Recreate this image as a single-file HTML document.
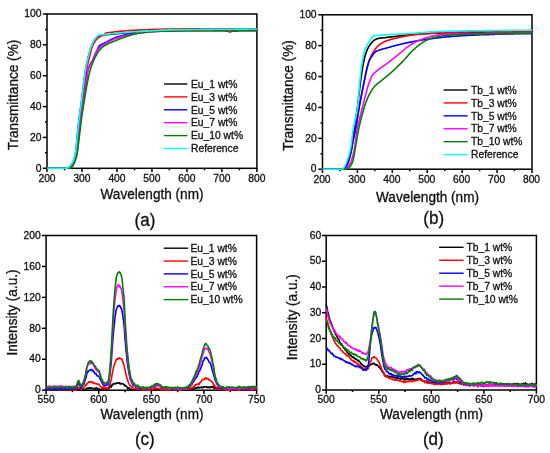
<!DOCTYPE html>
<html><head><meta charset="utf-8"><title>Figure</title>
<style>
html,body{margin:0;padding:0;background:#fff;width:550px;height:453px;overflow:hidden}
svg{display:block;will-change:transform;filter:blur(0.3px)}
text{font-family:"Liberation Sans", sans-serif;fill:#111;stroke:#111;stroke-width:0.3px}
</style></head><body>
<svg width="550" height="453" viewBox="0 0 550 453"><rect width="550" height="453" fill="#fff"/><rect x="47.0" y="14.0" width="209.89999999999998" height="154.3" fill="none" stroke="#000" stroke-width="1.5"/><line x1="47.00" y1="168.3" x2="47.00" y2="172.10000000000002" stroke="#000" stroke-width="1.5"/><text transform="translate(47.00,181.50) scale(1,1.05)" font-size="10.3" text-anchor="middle">200</text><line x1="81.98" y1="168.3" x2="81.98" y2="172.10000000000002" stroke="#000" stroke-width="1.5"/><text transform="translate(81.98,181.50) scale(1,1.05)" font-size="10.3" text-anchor="middle">300</text><line x1="116.97" y1="168.3" x2="116.97" y2="172.10000000000002" stroke="#000" stroke-width="1.5"/><text transform="translate(116.97,181.50) scale(1,1.05)" font-size="10.3" text-anchor="middle">400</text><line x1="151.95" y1="168.3" x2="151.95" y2="172.10000000000002" stroke="#000" stroke-width="1.5"/><text transform="translate(151.95,181.50) scale(1,1.05)" font-size="10.3" text-anchor="middle">500</text><line x1="186.93" y1="168.3" x2="186.93" y2="172.10000000000002" stroke="#000" stroke-width="1.5"/><text transform="translate(186.93,181.50) scale(1,1.05)" font-size="10.3" text-anchor="middle">600</text><line x1="221.92" y1="168.3" x2="221.92" y2="172.10000000000002" stroke="#000" stroke-width="1.5"/><text transform="translate(221.92,181.50) scale(1,1.05)" font-size="10.3" text-anchor="middle">700</text><line x1="256.90" y1="168.3" x2="256.90" y2="172.10000000000002" stroke="#000" stroke-width="1.5"/><text transform="translate(256.90,181.50) scale(1,1.05)" font-size="10.3" text-anchor="middle">800</text><line x1="64.49" y1="168.3" x2="64.49" y2="170.3" stroke="#000" stroke-width="1.5"/><line x1="99.47" y1="168.3" x2="99.47" y2="170.3" stroke="#000" stroke-width="1.5"/><line x1="134.46" y1="168.3" x2="134.46" y2="170.3" stroke="#000" stroke-width="1.5"/><line x1="169.44" y1="168.3" x2="169.44" y2="170.3" stroke="#000" stroke-width="1.5"/><line x1="204.42" y1="168.3" x2="204.42" y2="170.3" stroke="#000" stroke-width="1.5"/><line x1="239.41" y1="168.3" x2="239.41" y2="170.3" stroke="#000" stroke-width="1.5"/><line x1="42.8" y1="168.30" x2="47.0" y2="168.30" stroke="#000" stroke-width="1.5"/><text transform="translate(41.40,171.50) scale(1,1.05)" font-size="10.3" text-anchor="end">0</text><line x1="42.8" y1="137.44" x2="47.0" y2="137.44" stroke="#000" stroke-width="1.5"/><text transform="translate(41.40,140.64) scale(1,1.05)" font-size="10.3" text-anchor="end">20</text><line x1="42.8" y1="106.58" x2="47.0" y2="106.58" stroke="#000" stroke-width="1.5"/><text transform="translate(41.40,109.78) scale(1,1.05)" font-size="10.3" text-anchor="end">40</text><line x1="42.8" y1="75.72" x2="47.0" y2="75.72" stroke="#000" stroke-width="1.5"/><text transform="translate(41.40,78.92) scale(1,1.05)" font-size="10.3" text-anchor="end">60</text><line x1="42.8" y1="44.86" x2="47.0" y2="44.86" stroke="#000" stroke-width="1.5"/><text transform="translate(41.40,48.06) scale(1,1.05)" font-size="10.3" text-anchor="end">80</text><line x1="42.8" y1="14.00" x2="47.0" y2="14.00" stroke="#000" stroke-width="1.5"/><text transform="translate(41.40,17.20) scale(1,1.05)" font-size="10.3" text-anchor="end">100</text><line x1="45.0" y1="152.87" x2="47.0" y2="152.87" stroke="#000" stroke-width="1.5"/><line x1="45.0" y1="122.01" x2="47.0" y2="122.01" stroke="#000" stroke-width="1.5"/><line x1="45.0" y1="91.15" x2="47.0" y2="91.15" stroke="#000" stroke-width="1.5"/><line x1="45.0" y1="60.29" x2="47.0" y2="60.29" stroke="#000" stroke-width="1.5"/><line x1="45.0" y1="29.43" x2="47.0" y2="29.43" stroke="#000" stroke-width="1.5"/><text transform="translate(152.00,198.50) scale(1,1.05)" font-size="13.6" text-anchor="middle">Wavelength (nm)</text><text transform="translate(17.50,95.00) rotate(-90) scale(1,1.05)" font-size="13.6" text-anchor="middle">Transmittance (%)</text><rect x="322.5" y="14.8" width="209.5" height="154.39999999999998" fill="none" stroke="#000" stroke-width="1.5"/><line x1="322.50" y1="169.2" x2="322.50" y2="173.0" stroke="#000" stroke-width="1.5"/><text transform="translate(322.00,183.30) scale(1,1.05)" font-size="10.3" text-anchor="middle">200</text><line x1="357.42" y1="169.2" x2="357.42" y2="173.0" stroke="#000" stroke-width="1.5"/><text transform="translate(356.92,183.30) scale(1,1.05)" font-size="10.3" text-anchor="middle">300</text><line x1="392.33" y1="169.2" x2="392.33" y2="173.0" stroke="#000" stroke-width="1.5"/><text transform="translate(391.83,183.30) scale(1,1.05)" font-size="10.3" text-anchor="middle">400</text><line x1="427.25" y1="169.2" x2="427.25" y2="173.0" stroke="#000" stroke-width="1.5"/><text transform="translate(426.75,183.30) scale(1,1.05)" font-size="10.3" text-anchor="middle">500</text><line x1="462.17" y1="169.2" x2="462.17" y2="173.0" stroke="#000" stroke-width="1.5"/><text transform="translate(461.67,183.30) scale(1,1.05)" font-size="10.3" text-anchor="middle">600</text><line x1="497.08" y1="169.2" x2="497.08" y2="173.0" stroke="#000" stroke-width="1.5"/><text transform="translate(496.58,183.30) scale(1,1.05)" font-size="10.3" text-anchor="middle">700</text><line x1="532.00" y1="169.2" x2="532.00" y2="173.0" stroke="#000" stroke-width="1.5"/><text transform="translate(531.50,183.30) scale(1,1.05)" font-size="10.3" text-anchor="middle">800</text><line x1="339.96" y1="169.2" x2="339.96" y2="171.2" stroke="#000" stroke-width="1.5"/><line x1="374.88" y1="169.2" x2="374.88" y2="171.2" stroke="#000" stroke-width="1.5"/><line x1="409.79" y1="169.2" x2="409.79" y2="171.2" stroke="#000" stroke-width="1.5"/><line x1="444.71" y1="169.2" x2="444.71" y2="171.2" stroke="#000" stroke-width="1.5"/><line x1="479.62" y1="169.2" x2="479.62" y2="171.2" stroke="#000" stroke-width="1.5"/><line x1="514.54" y1="169.2" x2="514.54" y2="171.2" stroke="#000" stroke-width="1.5"/><line x1="318.3" y1="169.20" x2="322.5" y2="169.20" stroke="#000" stroke-width="1.5"/><text transform="translate(316.60,172.40) scale(1,1.05)" font-size="10.3" text-anchor="end">0</text><line x1="318.3" y1="138.32" x2="322.5" y2="138.32" stroke="#000" stroke-width="1.5"/><text transform="translate(316.60,141.52) scale(1,1.05)" font-size="10.3" text-anchor="end">20</text><line x1="318.3" y1="107.44" x2="322.5" y2="107.44" stroke="#000" stroke-width="1.5"/><text transform="translate(316.60,110.64) scale(1,1.05)" font-size="10.3" text-anchor="end">40</text><line x1="318.3" y1="76.56" x2="322.5" y2="76.56" stroke="#000" stroke-width="1.5"/><text transform="translate(316.60,79.76) scale(1,1.05)" font-size="10.3" text-anchor="end">60</text><line x1="318.3" y1="45.68" x2="322.5" y2="45.68" stroke="#000" stroke-width="1.5"/><text transform="translate(316.60,48.88) scale(1,1.05)" font-size="10.3" text-anchor="end">80</text><line x1="318.3" y1="14.80" x2="322.5" y2="14.80" stroke="#000" stroke-width="1.5"/><text transform="translate(316.60,18.00) scale(1,1.05)" font-size="10.3" text-anchor="end">100</text><line x1="320.5" y1="153.76" x2="322.5" y2="153.76" stroke="#000" stroke-width="1.5"/><line x1="320.5" y1="122.88" x2="322.5" y2="122.88" stroke="#000" stroke-width="1.5"/><line x1="320.5" y1="92.00" x2="322.5" y2="92.00" stroke="#000" stroke-width="1.5"/><line x1="320.5" y1="61.12" x2="322.5" y2="61.12" stroke="#000" stroke-width="1.5"/><line x1="320.5" y1="30.24" x2="322.5" y2="30.24" stroke="#000" stroke-width="1.5"/><text transform="translate(427.50,202.40) scale(1,1.05)" font-size="13.6" text-anchor="middle">Wavelength (nm)</text><text transform="translate(293.00,95.50) rotate(-90) scale(1,1.05)" font-size="13.6" text-anchor="middle">Transmittance (%)</text><rect x="46.1" y="235.5" width="210.50000000000003" height="154.7" fill="none" stroke="#000" stroke-width="1.5"/><line x1="46.10" y1="390.2" x2="46.10" y2="394.0" stroke="#000" stroke-width="1.5"/><text transform="translate(46.10,402.50) scale(1,1.05)" font-size="10.3" text-anchor="middle">550</text><line x1="98.73" y1="390.2" x2="98.73" y2="394.0" stroke="#000" stroke-width="1.5"/><text transform="translate(98.73,402.50) scale(1,1.05)" font-size="10.3" text-anchor="middle">600</text><line x1="151.35" y1="390.2" x2="151.35" y2="394.0" stroke="#000" stroke-width="1.5"/><text transform="translate(151.35,402.50) scale(1,1.05)" font-size="10.3" text-anchor="middle">650</text><line x1="203.98" y1="390.2" x2="203.98" y2="394.0" stroke="#000" stroke-width="1.5"/><text transform="translate(203.98,402.50) scale(1,1.05)" font-size="10.3" text-anchor="middle">700</text><line x1="256.60" y1="390.2" x2="256.60" y2="394.0" stroke="#000" stroke-width="1.5"/><text transform="translate(256.60,402.50) scale(1,1.05)" font-size="10.3" text-anchor="middle">750</text><line x1="72.41" y1="390.2" x2="72.41" y2="392.2" stroke="#000" stroke-width="1.5"/><line x1="125.04" y1="390.2" x2="125.04" y2="392.2" stroke="#000" stroke-width="1.5"/><line x1="177.66" y1="390.2" x2="177.66" y2="392.2" stroke="#000" stroke-width="1.5"/><line x1="230.29" y1="390.2" x2="230.29" y2="392.2" stroke="#000" stroke-width="1.5"/><line x1="41.9" y1="390.20" x2="46.1" y2="390.20" stroke="#000" stroke-width="1.5"/><text transform="translate(40.70,393.40) scale(1,1.05)" font-size="10.3" text-anchor="end">0</text><line x1="41.9" y1="359.26" x2="46.1" y2="359.26" stroke="#000" stroke-width="1.5"/><text transform="translate(40.70,362.46) scale(1,1.05)" font-size="10.3" text-anchor="end">40</text><line x1="41.9" y1="328.32" x2="46.1" y2="328.32" stroke="#000" stroke-width="1.5"/><text transform="translate(40.70,331.52) scale(1,1.05)" font-size="10.3" text-anchor="end">80</text><line x1="41.9" y1="297.38" x2="46.1" y2="297.38" stroke="#000" stroke-width="1.5"/><text transform="translate(40.70,300.58) scale(1,1.05)" font-size="10.3" text-anchor="end">120</text><line x1="41.9" y1="266.44" x2="46.1" y2="266.44" stroke="#000" stroke-width="1.5"/><text transform="translate(40.70,269.64) scale(1,1.05)" font-size="10.3" text-anchor="end">160</text><line x1="41.9" y1="235.50" x2="46.1" y2="235.50" stroke="#000" stroke-width="1.5"/><text transform="translate(40.70,238.70) scale(1,1.05)" font-size="10.3" text-anchor="end">200</text><text transform="translate(152.00,419.00) scale(1,1.05)" font-size="13.6" text-anchor="middle">Wavelength (nm)</text><text transform="translate(17.00,312.50) rotate(-90) scale(1,1.05)" font-size="13.6" text-anchor="middle">Intensity (a.u.)</text><rect x="326.2" y="235.5" width="210.2" height="154.5" fill="none" stroke="#000" stroke-width="1.5"/><line x1="326.20" y1="390.0" x2="326.20" y2="393.8" stroke="#000" stroke-width="1.5"/><text transform="translate(326.20,402.50) scale(1,1.05)" font-size="10.3" text-anchor="middle">500</text><line x1="378.75" y1="390.0" x2="378.75" y2="393.8" stroke="#000" stroke-width="1.5"/><text transform="translate(378.75,402.50) scale(1,1.05)" font-size="10.3" text-anchor="middle">550</text><line x1="431.30" y1="390.0" x2="431.30" y2="393.8" stroke="#000" stroke-width="1.5"/><text transform="translate(431.30,402.50) scale(1,1.05)" font-size="10.3" text-anchor="middle">600</text><line x1="483.85" y1="390.0" x2="483.85" y2="393.8" stroke="#000" stroke-width="1.5"/><text transform="translate(483.85,402.50) scale(1,1.05)" font-size="10.3" text-anchor="middle">650</text><line x1="536.40" y1="390.0" x2="536.40" y2="393.8" stroke="#000" stroke-width="1.5"/><text transform="translate(536.40,402.50) scale(1,1.05)" font-size="10.3" text-anchor="middle">700</text><line x1="352.47" y1="390.0" x2="352.47" y2="392.0" stroke="#000" stroke-width="1.5"/><line x1="405.02" y1="390.0" x2="405.02" y2="392.0" stroke="#000" stroke-width="1.5"/><line x1="457.57" y1="390.0" x2="457.57" y2="392.0" stroke="#000" stroke-width="1.5"/><line x1="510.12" y1="390.0" x2="510.12" y2="392.0" stroke="#000" stroke-width="1.5"/><line x1="322.0" y1="390.00" x2="326.2" y2="390.00" stroke="#000" stroke-width="1.5"/><text transform="translate(321.10,393.20) scale(1,1.05)" font-size="10.3" text-anchor="end">0</text><line x1="322.0" y1="364.25" x2="326.2" y2="364.25" stroke="#000" stroke-width="1.5"/><text transform="translate(321.10,367.45) scale(1,1.05)" font-size="10.3" text-anchor="end">10</text><line x1="322.0" y1="338.50" x2="326.2" y2="338.50" stroke="#000" stroke-width="1.5"/><text transform="translate(321.10,341.70) scale(1,1.05)" font-size="10.3" text-anchor="end">20</text><line x1="322.0" y1="312.75" x2="326.2" y2="312.75" stroke="#000" stroke-width="1.5"/><text transform="translate(321.10,315.95) scale(1,1.05)" font-size="10.3" text-anchor="end">30</text><line x1="322.0" y1="287.00" x2="326.2" y2="287.00" stroke="#000" stroke-width="1.5"/><text transform="translate(321.10,290.20) scale(1,1.05)" font-size="10.3" text-anchor="end">40</text><line x1="322.0" y1="261.25" x2="326.2" y2="261.25" stroke="#000" stroke-width="1.5"/><text transform="translate(321.10,264.45) scale(1,1.05)" font-size="10.3" text-anchor="end">50</text><line x1="322.0" y1="235.50" x2="326.2" y2="235.50" stroke="#000" stroke-width="1.5"/><text transform="translate(321.10,238.70) scale(1,1.05)" font-size="10.3" text-anchor="end">60</text><text transform="translate(431.50,419.40) scale(1,1.05)" font-size="13.6" text-anchor="middle">Wavelength (nm)</text><text transform="translate(297.00,317.30) rotate(-90) scale(1,1.05)" font-size="13.6" text-anchor="middle">Intensity (a.u.)</text><path d="M47.0,168.3L47.5,168.3L48.0,168.3L48.5,168.3L49.0,168.3L49.5,168.3L50.0,168.3L50.5,168.3L51.0,168.3L51.5,168.3L52.0,168.3L52.5,168.3L53.0,168.3L53.5,168.3L54.0,168.3L54.5,168.3L55.0,168.3L55.5,168.3L56.0,168.3L56.5,168.3L57.0,168.3L57.5,168.3L58.0,168.3L58.5,168.3L59.0,168.3L59.5,168.3L60.0,168.3L60.5,168.3L61.0,168.3L61.5,168.3L62.0,168.3L62.5,168.3L63.0,168.3L63.5,168.3L64.0,168.3L64.5,168.3L65.0,168.3L65.5,168.3L66.0,168.3L66.5,168.3L67.0,168.2L67.5,168.0L68.0,167.8L68.5,167.6L69.0,167.3L69.5,166.9L70.0,166.3L70.5,165.7L71.0,165.0L71.5,164.4L72.0,163.6L72.5,162.8L73.0,161.8L73.6,160.6L74.1,159.1L74.6,157.3L75.1,155.1L75.6,152.5L76.1,148.9L76.6,143.5L77.1,137.6L77.6,132.4L78.1,127.8L78.6,123.4L79.1,119.2L79.6,115.2L80.1,111.4L80.6,108.0L81.1,104.5L81.6,100.9L82.1,97.0L82.6,92.8L83.1,88.6L83.6,84.4L84.1,80.4L84.6,76.6L85.1,73.0L85.6,69.8L86.1,67.0L86.6,64.5L87.1,62.1L87.6,59.9L88.1,57.8L88.6,55.8L89.1,53.9L89.6,52.1L90.1,50.4L90.6,48.9L91.1,47.5L91.6,46.2L92.1,44.9L92.6,43.7L93.1,42.6L93.6,41.6L94.1,40.7L94.6,39.9L95.1,39.3L95.6,38.6L96.1,38.0L96.6,37.5L97.1,37.0L97.6,36.5L98.1,36.1L98.6,35.8L99.1,35.6L99.6,35.4L100.1,35.3L100.6,35.2L101.1,35.2L101.6,35.1L102.1,35.1L102.6,35.0L103.1,35.0L103.6,34.9L104.1,34.9L104.6,34.8L105.1,34.8L105.6,34.7L106.1,34.7L106.6,34.7L107.1,34.6L107.6,34.6L108.1,34.5L108.6,34.5L109.1,34.4L109.6,34.4L110.1,34.4L110.6,34.3L111.1,34.3L111.6,34.2L112.1,34.2L112.6,34.1L113.1,34.1L113.6,34.0L114.1,34.0L114.6,33.9L115.1,33.9L115.6,33.8L116.1,33.8L116.6,33.7L117.1,33.7L117.6,33.6L118.1,33.6L118.6,33.5L119.1,33.5L119.6,33.4L120.1,33.4L120.6,33.3L121.1,33.3L121.6,33.2L122.1,33.2L122.6,33.1L123.1,33.1L123.6,33.0L124.1,33.0L124.6,32.9L125.1,32.9L125.6,32.8L126.2,32.8L126.7,32.8L127.2,32.7L127.7,32.7L128.2,32.6L128.7,32.6L129.2,32.6L129.7,32.5L130.2,32.5L130.7,32.5L131.2,32.4L131.7,32.4L132.2,32.4L132.7,32.3L133.2,32.3L133.7,32.3L134.2,32.3L134.7,32.2L135.2,32.2L135.7,32.2L136.2,32.1L136.7,32.1L137.2,32.1L137.7,32.1L138.2,32.0L138.7,32.0L139.2,32.0L139.7,32.0L140.2,31.9L140.7,31.9L141.2,31.9L141.7,31.9L142.2,31.8L142.7,31.8L143.2,31.8L143.7,31.8L144.2,31.7L144.7,31.7L145.2,31.7L145.7,31.7L146.2,31.6L146.7,31.6L147.2,31.6L147.7,31.6L148.2,31.5L148.7,31.5L149.2,31.5L149.7,31.4L150.2,31.4L150.7,31.4L151.2,31.4L151.7,31.3L152.2,31.3L152.7,31.3L153.2,31.2L153.7,31.2L154.2,31.2L154.7,31.1L155.2,31.1L155.7,31.0L156.2,31.0L156.7,31.0L157.2,30.9L157.7,30.9L158.2,30.9L158.7,30.8L159.2,30.8L159.7,30.8L160.2,30.7L160.7,30.7L161.2,30.7L161.7,30.6L162.2,30.6L162.7,30.6L163.2,30.6L163.7,30.6L164.2,30.5L164.7,30.5L165.2,30.5L165.7,30.5L166.2,30.5L166.7,30.5L167.2,30.4L167.7,30.4L168.2,30.4L168.7,30.4L169.2,30.4L169.7,30.4L170.2,30.4L170.7,30.3L171.2,30.3L171.7,30.3L172.2,30.3L172.7,30.3L173.2,30.3L173.7,30.3L174.2,30.3L174.7,30.2L175.2,30.2L175.7,30.2L176.2,30.2L176.7,30.2L177.2,30.2L177.7,30.2L178.3,30.2L178.8,30.2L179.3,30.2L179.8,30.2L180.3,30.1L180.8,30.1L181.3,30.1L181.8,30.1L182.3,30.1L182.8,30.1L183.3,30.1L183.8,30.1L184.3,30.1L184.8,30.1L185.3,30.1L185.8,30.1L186.3,30.1L186.8,30.0L187.3,30.0L187.8,30.0L188.3,30.0L188.8,30.0L189.3,30.0L189.8,30.0L190.3,30.0L190.8,30.0L191.3,30.0L191.8,30.0L192.3,30.0L192.8,30.0L193.3,30.0L193.8,30.0L194.3,30.0L194.8,30.0L195.3,30.0L195.8,29.9L196.3,29.9L196.8,29.9L197.3,29.9L197.8,29.9L198.3,29.9L198.8,29.9L199.3,29.9L199.8,29.9L200.3,29.9L200.8,29.9L201.3,29.9L201.8,29.9L202.3,29.9L202.8,29.9L203.3,29.9L203.8,29.9L204.3,29.9L204.8,29.9L205.3,29.9L205.8,29.9L206.3,29.9L206.8,29.9L207.3,29.9L207.8,29.8L208.3,29.8L208.8,29.8L209.3,29.8L209.8,29.8L210.3,29.8L210.8,29.8L211.3,29.8L211.8,29.8L212.3,29.8L212.8,29.8L213.3,29.8L213.8,29.8L214.3,29.8L214.8,29.8L215.3,29.8L215.8,29.8L216.3,29.8L216.8,29.8L217.3,29.8L217.8,29.8L218.3,29.8L218.8,29.8L219.3,29.8L219.8,29.8L220.3,29.8L220.8,29.7L221.3,29.7L221.8,29.7L222.3,29.7L222.8,29.7L223.3,29.7L223.8,29.7L224.3,29.7L224.8,29.7L225.3,29.7L225.8,29.7L226.3,29.7L226.8,29.7L227.3,29.7L227.8,29.7L228.3,29.7L228.8,29.7L229.3,29.7L229.8,29.7L230.3,29.7L230.9,29.7L231.4,29.7L231.9,29.7L232.4,29.6L232.9,29.6L233.4,29.6L233.9,29.6L234.4,29.6L234.9,29.6L235.4,29.6L235.9,29.6L236.4,29.6L236.9,29.6L237.4,29.6L237.9,29.6L238.4,29.6L238.9,29.6L239.4,29.6L239.9,29.6L240.4,29.6L240.9,29.6L241.4,29.6L241.9,29.6L242.4,29.6L242.9,29.6L243.4,29.5L243.9,29.5L244.4,29.5L244.9,29.5L245.4,29.5L245.9,29.5L246.4,29.5L246.9,29.5L247.4,29.5L247.9,29.5L248.4,29.5L248.9,29.5L249.4,29.5L249.9,29.5L250.4,29.5L250.9,29.5L251.4,29.5L251.9,29.5L252.4,29.5L252.9,29.5L253.4,29.5L253.9,29.5L254.4,29.5L254.9,29.4L255.4,29.4L255.9,29.4L256.4,29.4L256.9,29.4" fill="none" stroke="#000000" stroke-width="1.6" stroke-linejoin="round"/><path d="M47.0,168.3L47.5,168.3L48.0,168.3L48.5,168.3L49.0,168.3L49.5,168.3L50.0,168.3L50.5,168.3L51.0,168.3L51.5,168.3L52.0,168.3L52.5,168.3L53.0,168.3L53.5,168.3L54.0,168.3L54.5,168.3L55.0,168.3L55.5,168.3L56.0,168.3L56.5,168.3L57.0,168.3L57.5,168.3L58.0,168.3L58.5,168.3L59.0,168.3L59.5,168.3L60.0,168.3L60.5,168.3L61.0,168.3L61.5,168.3L62.0,168.3L62.5,168.3L63.0,168.3L63.5,168.3L64.0,168.3L64.5,168.3L65.0,168.3L65.5,168.3L66.0,168.3L66.5,168.3L67.0,168.3L67.5,168.3L68.0,168.2L68.5,168.0L69.0,167.7L69.5,167.4L70.0,167.1L70.5,166.7L71.0,166.2L71.5,165.7L72.0,165.1L72.5,164.5L73.0,163.8L73.6,163.0L74.1,162.2L74.6,161.1L75.1,159.7L75.6,157.7L76.1,155.3L76.6,152.5L77.1,148.8L77.6,143.5L78.1,137.6L78.6,132.4L79.1,127.8L79.6,123.3L80.1,119.1L80.6,115.1L81.1,111.3L81.6,107.8L82.1,104.4L82.6,100.8L83.1,96.9L83.6,92.8L84.1,88.5L84.6,84.3L85.1,80.3L85.6,76.5L86.1,72.8L86.6,69.6L87.1,67.0L87.6,64.6L88.1,62.4L88.6,60.4L89.1,58.4L89.6,56.5L90.1,54.5L90.6,52.6L91.1,50.7L91.6,48.9L92.1,47.3L92.6,45.9L93.1,44.8L93.6,43.8L94.1,42.9L94.6,42.0L95.1,41.2L95.6,40.5L96.1,39.8L96.6,39.2L97.1,38.7L97.6,38.2L98.1,37.8L98.6,37.5L99.1,37.2L99.6,36.9L100.1,36.7L100.6,36.5L101.1,36.3L101.6,36.1L102.1,35.8L102.6,35.6L103.1,35.4L103.6,35.2L104.1,34.6L104.6,33.9L105.1,33.4L105.6,33.3L106.1,33.1L106.6,33.0L107.1,32.9L107.6,32.8L108.1,32.7L108.6,32.7L109.1,32.6L109.6,32.6L110.1,32.5L110.6,32.4L111.1,32.4L111.6,32.3L112.1,32.2L112.6,32.2L113.1,32.1L113.6,32.0L114.1,32.0L114.6,31.9L115.1,31.8L115.6,31.8L116.1,31.7L116.6,31.7L117.1,31.6L117.6,31.6L118.1,31.5L118.6,31.5L119.1,31.4L119.6,31.4L120.1,31.3L120.6,31.3L121.1,31.2L121.6,31.2L122.1,31.1L122.6,31.1L123.1,31.0L123.6,31.0L124.1,30.9L124.6,30.9L125.1,30.9L125.6,30.8L126.2,30.8L126.7,30.7L127.2,30.7L127.7,30.7L128.2,30.6L128.7,30.6L129.2,30.6L129.7,30.5L130.2,30.5L130.7,30.5L131.2,30.4L131.7,30.4L132.2,30.4L132.7,30.3L133.2,30.3L133.7,30.3L134.2,30.3L134.7,30.2L135.2,30.2L135.7,30.2L136.2,30.2L136.7,30.1L137.2,30.1L137.7,30.1L138.2,30.1L138.7,30.0L139.2,30.0L139.7,30.0L140.2,30.0L140.7,29.9L141.2,29.9L141.7,29.9L142.2,29.9L142.7,29.9L143.2,29.8L143.7,29.8L144.2,29.8L144.7,29.8L145.2,29.8L145.7,29.7L146.2,29.7L146.7,29.7L147.2,29.7L147.7,29.7L148.2,29.6L148.7,29.6L149.2,29.6L149.7,29.6L150.2,29.6L150.7,29.6L151.2,29.5L151.7,29.5L152.2,29.5L152.7,29.5L153.2,29.5L153.7,29.4L154.2,29.4L154.7,29.4L155.2,29.4L155.7,29.4L156.2,29.3L156.7,29.3L157.2,29.3L157.7,29.3L158.2,29.3L158.7,29.3L159.2,29.3L159.7,29.2L160.2,29.2L160.7,29.2L161.2,29.2L161.7,29.2L162.2,29.2L162.7,29.2L163.2,29.1L163.7,29.1L164.2,29.1L164.7,29.1L165.2,29.1L165.7,29.1L166.2,29.1L166.7,29.1L167.2,29.1L167.7,29.1L168.2,29.1L168.7,29.1L169.2,29.1L169.7,29.1L170.2,29.1L170.7,29.0L171.2,29.0L171.7,29.0L172.2,29.0L172.7,29.0L173.2,29.0L173.7,29.0L174.2,29.0L174.7,29.0L175.2,29.0L175.7,29.0L176.2,29.0L176.7,29.0L177.2,29.0L177.7,29.0L178.3,29.0L178.8,29.0L179.3,29.0L179.8,29.0L180.3,29.0L180.8,29.0L181.3,28.9L181.8,28.9L182.3,28.9L182.8,28.9L183.3,28.9L183.8,28.9L184.3,28.9L184.8,28.9L185.3,28.9L185.8,28.9L186.3,28.9L186.8,28.9L187.3,28.9L187.8,28.9L188.3,28.9L188.8,28.9L189.3,28.9L189.8,28.9L190.3,28.9L190.8,28.9L191.3,28.9L191.8,28.9L192.3,28.9L192.8,28.9L193.3,28.9L193.8,28.9L194.3,28.9L194.8,28.9L195.3,28.9L195.8,28.9L196.3,28.9L196.8,28.8L197.3,28.8L197.8,28.8L198.3,28.8L198.8,28.8L199.3,28.8L199.8,28.8L200.3,28.8L200.8,28.8L201.3,28.8L201.8,28.8L202.3,28.8L202.8,28.8L203.3,28.8L203.8,28.8L204.3,28.8L204.8,28.8L205.3,28.8L205.8,28.8L206.3,28.8L206.8,28.8L207.3,28.8L207.8,28.8L208.3,28.8L208.8,28.8L209.3,28.8L209.8,28.8L210.3,28.8L210.8,28.8L211.3,28.8L211.8,28.8L212.3,28.8L212.8,28.8L213.3,28.8L213.8,28.8L214.3,28.8L214.8,28.8L215.3,28.8L215.8,28.8L216.3,28.8L216.8,28.8L217.3,28.8L217.8,28.8L218.3,28.8L218.8,28.8L219.3,28.7L219.8,28.7L220.3,28.7L220.8,28.7L221.3,28.7L221.8,28.7L222.3,28.7L222.8,28.7L223.3,28.7L223.8,28.7L224.3,28.7L224.8,28.7L225.3,28.7L225.8,28.7L226.3,28.7L226.8,28.7L227.3,28.7L227.8,28.7L228.3,28.7L228.8,28.7L229.3,28.7L229.8,28.7L230.3,28.7L230.9,28.7L231.4,28.7L231.9,28.7L232.4,28.7L232.9,28.7L233.4,28.7L233.9,28.7L234.4,28.7L234.9,28.7L235.4,28.7L235.9,28.7L236.4,28.7L236.9,28.7L237.4,28.7L237.9,28.7L238.4,28.7L238.9,28.7L239.4,28.7L239.9,28.7L240.4,28.7L240.9,28.7L241.4,28.7L241.9,28.7L242.4,28.7L242.9,28.7L243.4,28.7L243.9,28.7L244.4,28.7L244.9,28.7L245.4,28.7L245.9,28.7L246.4,28.7L246.9,28.7L247.4,28.7L247.9,28.7L248.4,28.7L248.9,28.7L249.4,28.7L249.9,28.7L250.4,28.7L250.9,28.7L251.4,28.7L251.9,28.7L252.4,28.7L252.9,28.7L253.4,28.7L253.9,28.7L254.4,28.7L254.9,28.7L255.4,28.7L255.9,28.7L256.4,28.7L256.9,28.7" fill="none" stroke="#ff0000" stroke-width="1.6" stroke-linejoin="round"/><path d="M47.0,168.3L47.5,168.3L48.0,168.3L48.5,168.3L49.0,168.3L49.5,168.3L50.0,168.3L50.5,168.3L51.0,168.3L51.5,168.3L52.0,168.3L52.5,168.3L53.0,168.3L53.5,168.3L54.0,168.3L54.5,168.3L55.0,168.3L55.5,168.3L56.0,168.3L56.5,168.3L57.0,168.3L57.5,168.3L58.0,168.3L58.5,168.3L59.0,168.3L59.5,168.3L60.0,168.3L60.5,168.3L61.0,168.3L61.5,168.3L62.0,168.3L62.5,168.3L63.0,168.3L63.5,168.3L64.0,168.3L64.5,168.3L65.0,168.3L65.5,168.3L66.0,168.3L66.5,168.3L67.0,168.3L67.5,168.3L68.0,168.3L68.5,168.2L69.0,168.1L69.5,167.8L70.0,167.5L70.5,167.2L71.0,166.9L71.5,166.4L72.0,165.7L72.5,165.0L73.0,164.2L73.6,163.3L74.1,162.2L74.6,161.0L75.1,159.6L75.6,158.1L76.1,156.3L76.6,154.1L77.1,151.5L77.6,147.7L78.1,142.6L78.6,137.1L79.1,132.2L79.6,127.2L80.1,122.4L80.6,117.9L81.1,114.0L81.6,110.6L82.1,107.6L82.6,104.7L83.1,101.8L83.6,98.8L84.1,95.8L84.6,92.8L85.1,89.8L85.6,86.7L86.1,83.2L86.6,79.2L87.1,75.0L87.6,71.5L88.1,69.4L88.6,67.9L89.1,66.6L89.6,65.5L90.1,64.6L90.6,63.8L91.1,63.0L91.6,62.2L92.1,61.4L92.6,60.4L93.1,59.3L93.6,58.2L94.1,57.1L94.6,55.9L95.1,54.7L95.6,53.5L96.1,52.4L96.6,51.3L97.1,50.2L97.6,49.2L98.1,48.1L98.6,46.7L99.1,46.1L99.6,45.6L100.1,45.2L100.6,44.9L101.1,44.6L101.6,44.4L102.1,44.1L102.6,43.9L103.1,43.7L103.6,43.5L104.1,43.3L104.6,43.1L105.1,42.8L105.6,42.5L106.1,42.3L106.6,42.0L107.1,41.7L107.6,41.4L108.1,41.1L108.6,40.9L109.1,40.6L109.6,40.3L110.1,40.0L110.6,39.8L111.1,39.5L111.6,39.3L112.1,39.0L112.6,38.8L113.1,38.6L113.6,38.4L114.1,38.2L114.6,38.0L115.1,37.8L115.6,37.6L116.1,37.4L116.6,37.3L117.1,37.1L117.6,36.9L118.1,36.8L118.6,36.6L119.1,36.5L119.6,36.3L120.1,36.2L120.6,36.0L121.1,35.9L121.6,35.7L122.1,35.6L122.6,35.5L123.1,35.3L123.6,35.2L124.1,35.1L124.6,35.0L125.1,34.9L125.6,34.7L126.2,34.6L126.7,34.5L127.2,34.4L127.7,34.3L128.2,34.2L128.7,34.1L129.2,34.0L129.7,33.9L130.2,33.8L130.7,33.7L131.2,33.7L131.7,33.6L132.2,33.5L132.7,33.4L133.2,33.3L133.7,33.3L134.2,33.2L134.7,33.1L135.2,33.1L135.7,33.0L136.2,32.9L136.7,32.9L137.2,32.8L137.7,32.7L138.2,32.7L138.7,32.6L139.2,32.6L139.7,32.5L140.2,32.5L140.7,32.4L141.2,32.4L141.7,32.3L142.2,32.3L142.7,32.2L143.2,32.2L143.7,32.1L144.2,32.1L144.7,32.0L145.2,32.0L145.7,31.9L146.2,31.9L146.7,31.8L147.2,31.8L147.7,31.8L148.2,31.7L148.7,31.7L149.2,31.6L149.7,31.6L150.2,31.6L150.7,31.5L151.2,31.5L151.7,31.5L152.2,31.4L152.7,31.4L153.2,31.4L153.7,31.4L154.2,31.3L154.7,31.3L155.2,31.3L155.7,31.3L156.2,31.2L156.7,31.2L157.2,31.2L157.7,31.2L158.2,31.1L158.7,31.1L159.2,31.1L159.7,31.1L160.2,31.1L160.7,31.0L161.2,31.0L161.7,31.0L162.2,31.0L162.7,31.0L163.2,30.9L163.7,30.9L164.2,30.9L164.7,30.9L165.2,30.9L165.7,30.9L166.2,30.8L166.7,30.8L167.2,30.8L167.7,30.8L168.2,30.8L168.7,30.8L169.2,30.7L169.7,30.7L170.2,30.7L170.7,30.7L171.2,30.7L171.7,30.7L172.2,30.7L172.7,30.6L173.2,30.6L173.7,30.6L174.2,30.6L174.7,30.6L175.2,30.6L175.7,30.6L176.2,30.5L176.7,30.5L177.2,30.5L177.7,30.5L178.3,30.5L178.8,30.5L179.3,30.5L179.8,30.5L180.3,30.5L180.8,30.5L181.3,30.4L181.8,30.4L182.3,30.4L182.8,30.4L183.3,30.4L183.8,30.4L184.3,30.4L184.8,30.4L185.3,30.4L185.8,30.4L186.3,30.4L186.8,30.4L187.3,30.4L187.8,30.3L188.3,30.3L188.8,30.3L189.3,30.3L189.8,30.3L190.3,30.3L190.8,30.3L191.3,30.3L191.8,30.3L192.3,30.3L192.8,30.3L193.3,30.3L193.8,30.3L194.3,30.3L194.8,30.3L195.3,30.3L195.8,30.3L196.3,30.3L196.8,30.2L197.3,30.2L197.8,30.2L198.3,30.2L198.8,30.2L199.3,30.2L199.8,30.2L200.3,30.2L200.8,30.2L201.3,30.2L201.8,30.2L202.3,30.2L202.8,30.2L203.3,30.2L203.8,30.2L204.3,30.2L204.8,30.2L205.3,30.2L205.8,30.2L206.3,30.2L206.8,30.1L207.3,30.1L207.8,30.1L208.3,30.1L208.8,30.1L209.3,30.1L209.8,30.1L210.3,30.1L210.8,30.1L211.3,30.1L211.8,30.1L212.3,30.1L212.8,30.1L213.3,30.1L213.8,30.1L214.3,30.1L214.8,30.1L215.3,30.1L215.8,30.1L216.3,30.1L216.8,30.1L217.3,30.1L217.8,30.1L218.3,30.0L218.8,30.0L219.3,30.0L219.8,30.0L220.3,30.0L220.8,30.0L221.3,30.0L221.8,30.0L222.3,30.0L222.8,30.0L223.3,30.0L223.8,30.0L224.3,30.0L224.8,30.0L225.3,30.0L225.8,30.0L226.3,30.0L226.8,30.0L227.3,30.0L227.8,30.0L228.3,30.0L228.8,30.0L229.3,30.0L229.8,30.0L230.3,30.0L230.9,30.0L231.4,30.0L231.9,30.0L232.4,30.0L232.9,30.0L233.4,30.0L233.9,30.0L234.4,29.9L234.9,29.9L235.4,29.9L235.9,29.9L236.4,29.9L236.9,29.9L237.4,29.9L237.9,29.9L238.4,29.9L238.9,29.9L239.4,29.9L239.9,29.9L240.4,29.9L240.9,29.9L241.4,29.9L241.9,29.9L242.4,29.9L242.9,29.9L243.4,29.9L243.9,29.9L244.4,29.9L244.9,29.9L245.4,29.9L245.9,29.9L246.4,29.9L246.9,29.9L247.4,29.9L247.9,29.9L248.4,29.9L248.9,29.9L249.4,29.9L249.9,29.9L250.4,29.9L250.9,29.9L251.4,29.9L251.9,29.9L252.4,29.9L252.9,29.9L253.4,29.9L253.9,29.9L254.4,29.9L254.9,29.9L255.4,29.9L255.9,29.9L256.4,29.9L256.9,29.9" fill="none" stroke="#0000ff" stroke-width="1.6" stroke-linejoin="round"/><path d="M47.0,168.3L47.5,168.3L48.0,168.3L48.5,168.3L49.0,168.3L49.5,168.3L50.0,168.3L50.5,168.3L51.0,168.3L51.5,168.3L52.0,168.3L52.5,168.3L53.0,168.3L53.5,168.3L54.0,168.3L54.5,168.3L55.0,168.3L55.5,168.3L56.0,168.3L56.5,168.3L57.0,168.3L57.5,168.3L58.0,168.3L58.5,168.3L59.0,168.3L59.5,168.3L60.0,168.3L60.5,168.3L61.0,168.3L61.5,168.3L62.0,168.3L62.5,168.3L63.0,168.3L63.5,168.3L64.0,168.3L64.5,168.3L65.0,168.3L65.5,168.3L66.0,168.3L66.5,168.3L67.0,168.3L67.5,168.3L68.0,168.3L68.5,168.2L69.0,168.1L69.5,167.8L70.0,167.5L70.5,167.2L71.0,166.9L71.5,166.4L72.0,165.7L72.5,165.0L73.0,164.2L73.6,163.3L74.1,162.2L74.6,161.0L75.1,159.6L75.6,158.1L76.1,156.3L76.6,154.1L77.1,151.5L77.6,147.7L78.1,142.6L78.6,137.1L79.1,132.2L79.6,127.2L80.1,122.4L80.6,117.9L81.1,114.0L81.6,110.6L82.1,107.6L82.6,104.7L83.1,101.8L83.6,98.8L84.1,95.8L84.6,92.8L85.1,89.8L85.6,86.7L86.1,83.2L86.6,79.2L87.1,75.0L87.6,71.5L88.1,69.4L88.6,67.9L89.1,66.6L89.6,65.5L90.1,64.6L90.6,63.8L91.1,63.0L91.6,62.2L92.1,61.4L92.6,60.4L93.1,59.3L93.6,58.1L94.1,56.9L94.6,55.6L95.1,54.4L95.6,53.2L96.1,52.1L96.6,51.2L97.1,50.4L97.6,49.8L98.1,49.2L98.6,48.7L99.1,48.2L99.6,47.8L100.1,47.3L100.6,46.9L101.1,46.5L101.6,46.1L102.1,45.7L102.6,45.4L103.1,45.0L103.6,44.7L104.1,44.3L104.6,44.0L105.1,43.7L105.6,43.4L106.1,43.1L106.6,42.8L107.1,42.5L107.6,42.2L108.1,41.9L108.6,41.7L109.1,41.4L109.6,41.1L110.1,40.9L110.6,40.6L111.1,40.4L111.6,40.2L112.1,39.9L112.6,39.7L113.1,39.5L113.6,39.3L114.1,39.1L114.6,38.9L115.1,38.7L115.6,38.5L116.1,38.4L116.6,38.2L117.1,38.0L117.6,37.8L118.1,37.7L118.6,37.5L119.1,37.4L119.6,37.2L120.1,37.1L120.6,36.9L121.1,36.8L121.6,36.6L122.1,36.5L122.6,36.3L123.1,36.2L123.6,36.1L124.1,35.9L124.6,35.8L125.1,35.7L125.6,35.6L126.2,35.5L126.7,35.3L127.2,35.2L127.7,35.1L128.2,35.0L128.7,34.9L129.2,34.8L129.7,34.7L130.2,34.6L130.7,34.5L131.2,34.4L131.7,34.3L132.2,34.2L132.7,34.2L133.2,34.1L133.7,34.0L134.2,33.9L134.7,33.8L135.2,33.8L135.7,33.7L136.2,33.6L136.7,33.5L137.2,33.5L137.7,33.4L138.2,33.3L138.7,33.3L139.2,33.2L139.7,33.1L140.2,33.1L140.7,33.0L141.2,33.0L141.7,32.9L142.2,32.8L142.7,32.8L143.2,32.7L143.7,32.7L144.2,32.6L144.7,32.5L145.2,32.5L145.7,32.4L146.2,32.4L146.7,32.3L147.2,32.3L147.7,32.2L148.2,32.1L148.7,32.1L149.2,32.0L149.7,32.0L150.2,32.0L150.7,31.9L151.2,31.9L151.7,31.8L152.2,31.8L152.7,31.7L153.2,31.7L153.7,31.7L154.2,31.6L154.7,31.6L155.2,31.6L155.7,31.6L156.2,31.5L156.7,31.5L157.2,31.5L157.7,31.5L158.2,31.4L158.7,31.4L159.2,31.4L159.7,31.4L160.2,31.3L160.7,31.3L161.2,31.3L161.7,31.3L162.2,31.2L162.7,31.2L163.2,31.2L163.7,31.2L164.2,31.1L164.7,31.1L165.2,31.1L165.7,31.1L166.2,31.1L166.7,31.0L167.2,31.0L167.7,31.0L168.2,31.0L168.7,31.0L169.2,30.9L169.7,30.9L170.2,30.9L170.7,30.9L171.2,30.9L171.7,30.9L172.2,30.8L172.7,30.8L173.2,30.8L173.7,30.8L174.2,30.8L174.7,30.8L175.2,30.8L175.7,30.7L176.2,30.7L176.7,30.7L177.2,30.7L177.7,30.7L178.3,30.7L178.8,30.7L179.3,30.6L179.8,30.6L180.3,30.6L180.8,30.6L181.3,30.6L181.8,30.6L182.3,30.6L182.8,30.6L183.3,30.6L183.8,30.6L184.3,30.5L184.8,30.5L185.3,30.5L185.8,30.5L186.3,30.5L186.8,30.5L187.3,30.5L187.8,30.5L188.3,30.5L188.8,30.5L189.3,30.5L189.8,30.5L190.3,30.5L190.8,30.5L191.3,30.5L191.8,30.5L192.3,30.4L192.8,30.4L193.3,30.4L193.8,30.4L194.3,30.4L194.8,30.4L195.3,30.4L195.8,30.4L196.3,30.4L196.8,30.4L197.3,30.4L197.8,30.4L198.3,30.4L198.8,30.4L199.3,30.4L199.8,30.4L200.3,30.4L200.8,30.4L201.3,30.3L201.8,30.3L202.3,30.3L202.8,30.3L203.3,30.3L203.8,30.3L204.3,30.3L204.8,30.3L205.3,30.3L205.8,30.3L206.3,30.3L206.8,30.3L207.3,30.3L207.8,30.3L208.3,30.3L208.8,30.3L209.3,30.3L209.8,30.3L210.3,30.3L210.8,30.3L211.3,30.3L211.8,30.3L212.3,30.2L212.8,30.2L213.3,30.2L213.8,30.2L214.3,30.2L214.8,30.2L215.3,30.2L215.8,30.2L216.3,30.2L216.8,30.2L217.3,30.2L217.8,30.2L218.3,30.2L218.8,30.2L219.3,30.2L219.8,30.2L220.3,30.2L220.8,30.2L221.3,30.2L221.8,30.2L222.3,30.2L222.8,30.2L223.3,30.2L223.8,30.2L224.3,30.2L224.8,30.2L225.3,30.2L225.8,30.1L226.3,30.1L226.8,30.1L227.3,30.1L227.8,30.1L228.3,30.1L228.8,30.1L229.3,30.1L229.8,30.1L230.3,30.1L230.9,30.1L231.4,30.1L231.9,30.1L232.4,30.1L232.9,30.1L233.4,30.1L233.9,30.1L234.4,30.1L234.9,30.1L235.4,30.1L235.9,30.1L236.4,30.1L236.9,30.1L237.4,30.1L237.9,30.1L238.4,30.1L238.9,30.1L239.4,30.1L239.9,30.1L240.4,30.1L240.9,30.1L241.4,30.1L241.9,30.1L242.4,30.1L242.9,30.1L243.4,30.1L243.9,30.1L244.4,30.1L244.9,30.1L245.4,30.1L245.9,30.1L246.4,30.1L246.9,30.1L247.4,30.1L247.9,30.1L248.4,30.1L248.9,30.1L249.4,30.1L249.9,30.1L250.4,30.1L250.9,30.1L251.4,30.1L251.9,30.0L252.4,30.0L252.9,30.0L253.4,30.0L253.9,30.0L254.4,30.0L254.9,30.0L255.4,30.0L255.9,30.0L256.4,30.0L256.9,30.0" fill="none" stroke="#ff00ff" stroke-width="1.6" stroke-linejoin="round"/><path d="M47.0,168.3L47.5,168.3L48.0,168.3L48.5,168.3L49.0,168.3L49.5,168.3L50.0,168.3L50.5,168.3L51.0,168.3L51.5,168.3L52.0,168.3L52.5,168.3L53.0,168.3L53.5,168.3L54.0,168.3L54.5,168.3L55.0,168.3L55.5,168.3L56.0,168.3L56.5,168.3L57.0,168.3L57.5,168.3L58.0,168.3L58.5,168.3L59.0,168.3L59.5,168.3L60.0,168.3L60.5,168.3L61.0,168.3L61.5,168.3L62.0,168.3L62.5,168.3L63.0,168.3L63.5,168.3L64.0,168.3L64.5,168.3L65.0,168.3L65.5,168.3L66.0,168.3L66.5,168.3L67.0,168.3L67.5,168.3L68.0,168.3L68.5,168.3L69.0,168.3L69.5,168.2L70.0,168.1L70.5,167.9L71.0,167.6L71.5,167.3L72.0,167.0L72.5,166.5L73.0,165.6L73.6,164.6L74.1,163.4L74.6,162.3L75.1,161.1L75.6,159.7L76.1,158.1L76.6,156.2L77.1,154.0L77.6,150.8L78.1,146.9L78.6,142.6L79.1,138.4L79.6,134.4L80.1,130.3L80.6,126.0L81.1,121.9L81.6,117.9L82.1,114.3L82.6,111.1L83.1,108.0L83.6,105.1L84.1,102.1L84.6,99.1L85.1,95.9L85.6,92.7L86.1,89.6L86.6,86.6L87.1,84.0L87.6,81.4L88.1,79.0L88.6,76.6L89.1,74.4L89.6,72.4L90.1,70.5L90.6,68.8L91.1,67.3L91.6,65.8L92.1,64.3L92.6,63.0L93.1,61.7L93.6,60.6L94.1,59.4L94.6,58.4L95.1,57.4L95.6,56.4L96.1,55.5L96.6,54.6L97.1,53.7L97.6,52.9L98.1,52.2L98.6,51.5L99.1,50.8L99.6,50.2L100.1,49.6L100.6,49.0L101.1,48.5L101.6,48.0L102.1,47.5L102.6,47.1L103.1,46.7L103.6,46.3L104.1,45.9L104.6,45.6L105.1,45.3L105.6,45.0L106.1,44.7L106.6,44.4L107.1,44.2L107.6,43.9L108.1,43.7L108.6,43.5L109.1,43.2L109.6,43.0L110.1,42.8L110.6,42.6L111.1,42.4L111.6,42.2L112.1,42.0L112.6,41.8L113.1,41.7L113.6,41.5L114.1,41.3L114.6,41.1L115.1,40.9L115.6,40.6L116.1,40.4L116.6,40.2L117.1,40.0L117.6,39.8L118.1,39.6L118.6,39.4L119.1,39.2L119.6,39.0L120.1,38.8L120.6,38.6L121.1,38.4L121.6,38.2L122.1,38.1L122.6,37.9L123.1,37.7L123.6,37.5L124.1,37.3L124.6,37.1L125.1,37.0L125.6,36.8L126.2,36.6L126.7,36.4L127.2,36.3L127.7,36.1L128.2,35.9L128.7,35.8L129.2,35.6L129.7,35.5L130.2,35.3L130.7,35.2L131.2,35.0L131.7,34.9L132.2,34.7L132.7,34.6L133.2,34.5L133.7,34.3L134.2,34.2L134.7,34.1L135.2,33.9L135.7,33.8L136.2,33.7L136.7,33.6L137.2,33.5L137.7,33.3L138.2,33.2L138.7,33.2L139.2,33.1L139.7,33.0L140.2,32.9L140.7,32.8L141.2,32.8L141.7,32.7L142.2,32.6L142.7,32.6L143.2,32.5L143.7,32.4L144.2,32.4L144.7,32.3L145.2,32.2L145.7,32.2L146.2,32.1L146.7,32.1L147.2,32.0L147.7,31.9L148.2,31.9L148.7,31.8L149.2,31.8L149.7,31.7L150.2,31.7L150.7,31.7L151.2,31.6L151.7,31.6L152.2,31.6L152.7,31.5L153.2,31.5L153.7,31.5L154.2,31.5L154.7,31.4L155.2,31.4L155.7,31.4L156.2,31.4L156.7,31.4L157.2,31.4L157.7,31.4L158.2,31.3L158.7,31.3L159.2,31.3L159.7,31.3L160.2,31.3L160.7,31.3L161.2,31.3L161.7,31.3L162.2,31.3L162.7,31.2L163.2,31.2L163.7,31.2L164.2,31.2L164.7,31.2L165.2,31.2L165.7,31.2L166.2,31.2L166.7,31.2L167.2,31.2L167.7,31.1L168.2,31.1L168.7,31.1L169.2,31.1L169.7,31.1L170.2,31.1L170.7,31.1L171.2,31.1L171.7,31.1L172.2,31.1L172.7,31.1L173.2,31.1L173.7,31.1L174.2,31.0L174.7,31.0L175.2,31.0L175.7,31.0L176.2,31.0L176.7,31.0L177.2,31.0L177.7,31.0L178.3,31.0L178.8,31.0L179.3,31.0L179.8,31.0L180.3,31.0L180.8,31.0L181.3,31.0L181.8,31.0L182.3,31.0L182.8,31.0L183.3,31.0L183.8,31.0L184.3,31.0L184.8,31.0L185.3,31.0L185.8,31.0L186.3,31.0L186.8,31.0L187.3,31.0L187.8,31.0L188.3,31.0L188.8,31.0L189.3,31.0L189.8,31.0L190.3,31.0L190.8,31.0L191.3,31.0L191.8,31.0L192.3,31.0L192.8,31.0L193.3,31.0L193.8,31.0L194.3,31.0L194.8,31.0L195.3,31.0L195.8,31.0L196.3,31.0L196.8,31.0L197.3,31.0L197.8,31.0L198.3,31.0L198.8,31.0L199.3,31.0L199.8,31.0L200.3,31.0L200.8,31.0L201.3,31.0L201.8,31.0L202.3,31.0L202.8,31.0L203.3,31.0L203.8,31.0L204.3,31.0L204.8,31.0L205.3,31.0L205.8,31.0L206.3,31.0L206.8,31.0L207.3,31.0L207.8,31.0L208.3,31.0L208.8,31.0L209.3,31.0L209.8,31.0L210.3,31.0L210.8,31.0L211.3,31.0L211.8,31.0L212.3,31.0L212.8,31.0L213.3,31.0L213.8,31.0L214.3,31.0L214.8,31.0L215.3,31.0L215.8,31.0L216.3,31.0L216.8,31.0L217.3,31.0L217.8,31.0L218.3,31.0L218.8,31.0L219.3,31.0L219.8,31.0L220.3,31.0L220.8,31.0L221.3,31.0L221.8,31.0L222.3,31.0L222.8,31.0L223.3,31.0L223.8,31.0L224.3,31.0L224.8,31.0L225.3,31.0L225.8,31.1L226.3,31.1L226.8,31.1L227.3,31.2L227.8,31.3L228.3,31.6L228.8,31.8L229.3,32.0L229.8,32.0L230.3,31.9L230.9,31.7L231.4,31.4L231.9,31.2L232.4,31.1L232.9,31.1L233.4,31.1L233.9,31.1L234.4,31.1L234.9,31.1L235.4,31.1L235.9,31.1L236.4,31.1L236.9,31.1L237.4,31.1L237.9,31.1L238.4,31.0L238.9,31.0L239.4,31.0L239.9,31.0L240.4,31.0L240.9,31.0L241.4,31.0L241.9,31.0L242.4,31.0L242.9,31.0L243.4,31.0L243.9,31.0L244.4,31.0L244.9,31.0L245.4,31.0L245.9,31.0L246.4,31.0L246.9,31.0L247.4,31.0L247.9,31.0L248.4,31.0L248.9,31.0L249.4,31.0L249.9,31.0L250.4,31.0L250.9,31.0L251.4,31.0L251.9,31.0L252.4,31.0L252.9,31.0L253.4,31.0L253.9,31.0L254.4,31.0L254.9,31.0L255.4,31.0L255.9,31.0L256.4,31.0L256.9,31.0" fill="none" stroke="#008000" stroke-width="1.6" stroke-linejoin="round"/><path d="M47.0,168.3L47.5,168.3L48.0,168.3L48.5,168.3L49.0,168.3L49.5,168.3L50.0,168.3L50.5,168.3L51.0,168.3L51.5,168.3L52.0,168.3L52.5,168.3L53.0,168.3L53.5,168.3L54.0,168.3L54.5,168.3L55.0,168.3L55.5,168.3L56.0,168.3L56.5,168.3L57.0,168.3L57.5,168.3L58.0,168.3L58.5,168.3L59.0,168.3L59.5,168.3L60.0,168.3L60.5,168.3L61.0,168.3L61.5,168.3L62.0,168.3L62.5,168.3L63.0,168.3L63.5,168.3L64.0,168.3L64.5,168.3L65.0,168.3L65.5,168.3L66.0,168.3L66.5,168.3L67.0,168.1L67.5,167.8L68.0,167.5L68.5,167.2L69.0,166.8L69.5,166.3L70.0,165.8L70.5,165.2L71.0,164.6L71.5,163.9L72.0,163.2L72.5,162.3L73.0,161.3L73.6,160.1L74.1,158.6L74.6,156.8L75.1,154.7L75.6,152.1L76.1,148.5L76.6,143.1L77.1,137.1L77.6,132.0L78.1,127.3L78.6,122.9L79.1,118.7L79.6,114.7L80.1,111.0L80.6,107.5L81.1,104.1L81.6,100.5L82.1,96.5L82.6,92.4L83.1,88.1L83.6,83.9L84.1,80.0L84.6,76.1L85.1,72.5L85.6,69.3L86.1,66.5L86.6,64.0L87.1,61.6L87.6,59.4L88.1,57.4L88.6,55.4L89.1,53.5L89.6,51.7L90.1,50.0L90.6,48.4L91.1,47.0L91.6,45.7L92.1,44.5L92.6,43.3L93.1,42.2L93.6,41.1L94.1,40.2L94.6,39.5L95.1,38.8L95.6,38.2L96.1,37.6L96.6,37.0L97.1,36.5L97.6,36.0L98.1,35.6L98.6,35.3L99.1,35.1L99.6,35.0L100.1,34.9L100.6,34.8L101.1,34.7L101.6,34.7L102.1,34.6L102.6,34.6L103.1,34.5L103.6,34.5L104.1,34.4L104.6,34.4L105.1,34.3L105.6,34.3L106.1,34.2L106.6,34.2L107.1,34.1L107.6,34.1L108.1,34.1L108.6,34.0L109.1,34.0L109.6,33.9L110.1,33.9L110.6,33.8L111.1,33.8L111.6,33.8L112.1,33.7L112.6,33.7L113.1,33.6L113.6,33.6L114.1,33.5L114.6,33.5L115.1,33.4L115.6,33.4L116.1,33.3L116.6,33.3L117.1,33.2L117.6,33.2L118.1,33.1L118.6,33.1L119.1,33.0L119.6,33.0L120.1,32.9L120.6,32.9L121.1,32.8L121.6,32.8L122.1,32.7L122.6,32.7L123.1,32.6L123.6,32.6L124.1,32.5L124.6,32.5L125.1,32.4L125.6,32.4L126.2,32.3L126.7,32.3L127.2,32.3L127.7,32.2L128.2,32.2L128.7,32.1L129.2,32.1L129.7,32.1L130.2,32.0L130.7,32.0L131.2,32.0L131.7,31.9L132.2,31.9L132.7,31.9L133.2,31.8L133.7,31.8L134.2,31.8L134.7,31.8L135.2,31.7L135.7,31.7L136.2,31.7L136.7,31.7L137.2,31.6L137.7,31.6L138.2,31.6L138.7,31.5L139.2,31.5L139.7,31.5L140.2,31.5L140.7,31.4L141.2,31.4L141.7,31.4L142.2,31.4L142.7,31.3L143.2,31.3L143.7,31.3L144.2,31.3L144.7,31.2L145.2,31.2L145.7,31.2L146.2,31.2L146.7,31.1L147.2,31.1L147.7,31.1L148.2,31.1L148.7,31.0L149.2,31.0L149.7,31.0L150.2,31.0L150.7,30.9L151.2,30.9L151.7,30.9L152.2,30.8L152.7,30.8L153.2,30.8L153.7,30.7L154.2,30.7L154.7,30.7L155.2,30.6L155.7,30.6L156.2,30.5L156.7,30.5L157.2,30.5L157.7,30.4L158.2,30.4L158.7,30.4L159.2,30.3L159.7,30.3L160.2,30.3L160.7,30.2L161.2,30.2L161.7,30.2L162.2,30.2L162.7,30.1L163.2,30.1L163.7,30.1L164.2,30.1L164.7,30.1L165.2,30.0L165.7,30.0L166.2,30.0L166.7,30.0L167.2,30.0L167.7,30.0L168.2,29.9L168.7,29.9L169.2,29.9L169.7,29.9L170.2,29.9L170.7,29.9L171.2,29.9L171.7,29.9L172.2,29.8L172.7,29.8L173.2,29.8L173.7,29.8L174.2,29.8L174.7,29.8L175.2,29.8L175.7,29.8L176.2,29.8L176.7,29.7L177.2,29.7L177.7,29.7L178.3,29.7L178.8,29.7L179.3,29.7L179.8,29.7L180.3,29.7L180.8,29.7L181.3,29.7L181.8,29.7L182.3,29.6L182.8,29.6L183.3,29.6L183.8,29.6L184.3,29.6L184.8,29.6L185.3,29.6L185.8,29.6L186.3,29.6L186.8,29.6L187.3,29.6L187.8,29.6L188.3,29.6L188.8,29.6L189.3,29.6L189.8,29.5L190.3,29.5L190.8,29.5L191.3,29.5L191.8,29.5L192.3,29.5L192.8,29.5L193.3,29.5L193.8,29.5L194.3,29.5L194.8,29.5L195.3,29.5L195.8,29.5L196.3,29.5L196.8,29.5L197.3,29.5L197.8,29.5L198.3,29.5L198.8,29.5L199.3,29.5L199.8,29.5L200.3,29.4L200.8,29.4L201.3,29.4L201.8,29.4L202.3,29.4L202.8,29.4L203.3,29.4L203.8,29.4L204.3,29.4L204.8,29.4L205.3,29.4L205.8,29.4L206.3,29.4L206.8,29.4L207.3,29.4L207.8,29.4L208.3,29.4L208.8,29.4L209.3,29.4L209.8,29.4L210.3,29.4L210.8,29.4L211.3,29.4L211.8,29.4L212.3,29.4L212.8,29.3L213.3,29.3L213.8,29.3L214.3,29.3L214.8,29.3L215.3,29.3L215.8,29.3L216.3,29.3L216.8,29.3L217.3,29.3L217.8,29.3L218.3,29.3L218.8,29.3L219.3,29.3L219.8,29.3L220.3,29.3L220.8,29.3L221.3,29.3L221.8,29.3L222.3,29.3L222.8,29.3L223.3,29.3L223.8,29.3L224.3,29.3L224.8,29.2L225.3,29.2L225.8,29.2L226.3,29.2L226.8,29.2L227.3,29.2L227.8,29.2L228.3,29.2L228.8,29.2L229.3,29.2L229.8,29.2L230.3,29.2L230.9,29.2L231.4,29.2L231.9,29.2L232.4,29.2L232.9,29.2L233.4,29.2L233.9,29.2L234.4,29.2L234.9,29.2L235.4,29.2L235.9,29.2L236.4,29.1L236.9,29.1L237.4,29.1L237.9,29.1L238.4,29.1L238.9,29.1L239.4,29.1L239.9,29.1L240.4,29.1L240.9,29.1L241.4,29.1L241.9,29.1L242.4,29.1L242.9,29.1L243.4,29.1L243.9,29.1L244.4,29.1L244.9,29.1L245.4,29.1L245.9,29.1L246.4,29.1L246.9,29.1L247.4,29.1L247.9,29.0L248.4,29.0L248.9,29.0L249.4,29.0L249.9,29.0L250.4,29.0L250.9,29.0L251.4,29.0L251.9,29.0L252.4,29.0L252.9,29.0L253.4,29.0L253.9,29.0L254.4,29.0L254.9,29.0L255.4,29.0L255.9,29.0L256.4,29.0L256.9,29.0" fill="none" stroke="#00ffff" stroke-width="1.6" stroke-linejoin="round"/><path d="M322.5,169.2L323.0,169.2L323.5,169.2L324.0,169.2L324.5,169.2L325.0,169.2L325.5,169.2L326.0,169.2L326.5,169.2L327.0,169.2L327.5,169.2L328.0,169.2L328.5,169.2L329.0,169.2L329.5,169.2L330.0,169.2L330.5,169.2L331.0,169.2L331.5,169.2L332.0,169.2L332.5,169.2L333.0,169.2L333.5,169.2L334.0,169.2L334.5,169.2L335.0,169.2L335.5,169.2L336.0,169.2L336.5,169.2L337.0,169.2L337.5,169.2L338.0,169.2L338.5,169.2L339.0,169.2L339.5,169.2L340.0,169.2L340.5,169.2L341.0,169.2L341.5,169.2L342.0,169.2L342.5,169.2L343.0,169.2L343.5,169.0L344.0,168.6L344.5,168.2L345.0,167.7L345.5,167.1L346.0,166.4L346.5,165.5L347.0,164.3L347.5,163.0L348.0,161.6L348.5,160.1L349.0,158.5L349.5,157.0L350.0,155.4L350.5,153.7L351.0,151.8L351.5,149.6L352.0,146.9L352.5,143.2L353.0,138.7L353.5,134.1L354.0,130.0L354.5,126.5L355.0,123.2L355.5,120.1L356.0,117.0L356.5,113.8L357.0,110.4L357.5,106.8L358.0,102.8L358.5,98.6L359.0,94.2L359.5,89.9L360.0,85.9L360.5,82.1L361.0,78.5L361.5,74.9L362.0,71.5L362.5,68.3L363.0,65.3L363.5,62.8L364.0,60.5L364.5,58.3L365.0,56.3L365.5,54.5L366.0,52.9L366.5,51.5L367.0,50.3L367.5,49.2L368.0,48.1L368.5,47.2L369.0,46.3L369.5,45.5L370.0,44.8L370.5,44.1L371.0,43.5L371.5,42.9L372.0,42.3L372.5,41.8L373.0,41.3L373.5,40.8L374.0,40.4L374.5,40.0L375.0,39.7L375.5,39.4L376.0,39.2L376.5,39.0L377.0,38.8L377.5,38.6L378.0,38.5L378.5,38.4L379.0,38.3L379.5,38.2L380.0,38.1L380.5,38.1L381.0,38.0L381.5,38.0L382.0,37.9L382.5,37.9L383.0,37.8L383.5,37.8L384.0,37.8L384.5,37.7L385.0,37.7L385.5,37.6L386.0,37.5L386.5,37.5L387.0,37.4L387.5,37.4L388.0,37.3L388.5,37.2L389.0,37.2L389.5,37.1L390.0,37.1L390.5,37.0L391.0,36.9L391.5,36.9L392.0,36.8L392.5,36.8L393.0,36.7L393.5,36.6L394.0,36.6L394.5,36.5L395.0,36.5L395.5,36.4L396.0,36.3L396.5,36.3L397.0,36.2L397.5,36.2L398.0,36.1L398.5,36.0L399.0,36.0L399.5,35.9L400.0,35.8L400.5,35.8L401.0,35.7L401.5,35.7L402.0,35.6L402.5,35.5L403.0,35.5L403.5,35.4L404.0,35.3L404.5,35.3L405.0,35.2L405.5,35.2L406.0,35.1L406.5,35.1L407.0,35.0L407.5,35.0L408.0,34.9L408.5,34.9L409.0,34.8L409.5,34.8L410.0,34.8L410.5,34.7L411.0,34.7L411.5,34.6L412.0,34.6L412.5,34.5L413.0,34.5L413.5,34.5L414.0,34.4L414.5,34.4L415.0,34.3L415.5,34.3L416.0,34.3L416.5,34.2L417.0,34.2L417.5,34.2L418.0,34.1L418.5,34.1L419.0,34.0L419.5,34.0L420.0,34.0L420.5,33.9L421.0,33.9L421.5,33.9L422.0,33.8L422.5,33.8L423.0,33.8L423.5,33.7L424.0,33.7L424.5,33.7L425.0,33.7L425.5,33.6L426.0,33.6L426.5,33.6L427.0,33.5L427.5,33.5L428.0,33.5L428.5,33.5L429.0,33.4L429.5,33.4L430.0,33.4L430.5,33.4L431.0,33.4L431.5,33.3L432.0,33.3L432.5,33.3L433.0,33.3L433.5,33.3L434.0,33.2L434.5,33.2L435.0,33.2L435.5,33.2L436.0,33.2L436.5,33.1L437.0,33.1L437.5,33.1L438.0,33.1L438.5,33.1L439.0,33.1L439.5,33.0L440.0,33.0L440.5,33.0L441.0,33.0L441.5,33.0L442.0,33.0L442.5,32.9L443.0,32.9L443.5,32.9L444.0,32.9L444.5,32.9L445.0,32.9L445.5,32.8L446.0,32.8L446.5,32.8L447.0,32.8L447.5,32.8L448.0,32.8L448.5,32.7L449.0,32.7L449.5,32.7L450.0,32.7L450.5,32.7L451.0,32.7L451.5,32.7L452.0,32.6L452.5,32.6L453.0,32.6L453.5,32.6L454.0,32.6L454.5,32.6L455.0,32.6L455.5,32.5L456.0,32.5L456.5,32.5L457.0,32.5L457.5,32.5L458.0,32.5L458.5,32.5L459.0,32.4L459.5,32.4L460.0,32.4L460.5,32.4L461.0,32.4L461.5,32.4L462.0,32.4L462.5,32.4L463.0,32.4L463.5,32.3L464.0,32.3L464.5,32.3L465.0,32.3L465.5,32.3L466.0,32.3L466.5,32.3L467.0,32.3L467.5,32.3L468.0,32.3L468.5,32.2L469.0,32.2L469.5,32.2L470.0,32.2L470.5,32.2L471.0,32.2L471.5,32.2L472.0,32.2L472.5,32.2L473.0,32.2L473.5,32.2L474.0,32.2L474.5,32.2L475.0,32.1L475.5,32.1L476.0,32.1L476.5,32.1L477.0,32.1L477.5,32.1L478.0,32.1L478.5,32.1L479.0,32.1L479.5,32.1L480.0,32.1L480.5,32.1L481.0,32.1L481.5,32.1L482.0,32.1L482.5,32.1L483.0,32.1L483.5,32.1L484.0,32.1L484.5,32.0L485.0,32.0L485.5,32.0L486.0,32.0L486.5,32.0L487.0,32.0L487.5,32.0L488.0,32.0L488.5,32.0L489.0,32.0L489.5,32.0L490.0,32.0L490.5,32.0L491.0,32.0L491.5,32.0L492.0,32.0L492.5,32.0L493.0,32.0L493.5,32.0L494.0,32.0L494.5,32.0L495.0,32.0L495.5,32.0L496.0,31.9L496.5,31.9L497.0,31.9L497.5,31.9L498.0,31.9L498.5,31.9L499.0,31.9L499.5,31.9L500.0,31.9L500.5,31.9L501.0,31.9L501.5,31.9L502.0,31.9L502.5,31.9L503.0,31.9L503.5,31.9L504.0,31.9L504.5,31.9L505.0,31.9L505.5,31.9L506.0,31.9L506.5,31.9L507.0,31.9L507.5,31.9L508.0,31.9L508.5,31.9L509.0,31.9L509.5,31.9L510.0,31.8L510.5,31.8L511.0,31.8L511.5,31.8L512.0,31.8L512.5,31.8L513.0,31.8L513.5,31.8L514.0,31.8L514.5,31.8L515.0,31.8L515.5,31.8L516.0,31.8L516.5,31.8L517.0,31.8L517.5,31.8L518.0,31.8L518.5,31.8L519.0,31.8L519.5,31.8L520.0,31.8L520.5,31.8L521.0,31.8L521.5,31.8L522.0,31.8L522.5,31.8L523.0,31.8L523.5,31.8L524.0,31.8L524.5,31.8L525.0,31.8L525.5,31.8L526.0,31.8L526.5,31.8L527.0,31.8L527.5,31.8L528.0,31.8L528.5,31.8L529.0,31.8L529.5,31.8L530.0,31.8L530.5,31.8L531.0,31.8L531.5,31.8L532.0,31.8" fill="none" stroke="#000000" stroke-width="1.6" stroke-linejoin="round"/><path d="M322.5,169.2L323.0,169.2L323.5,169.2L324.0,169.2L324.5,169.2L325.0,169.2L325.5,169.2L326.0,169.2L326.5,169.2L327.0,169.2L327.5,169.2L328.0,169.2L328.5,169.2L329.0,169.2L329.5,169.2L330.0,169.2L330.5,169.2L331.0,169.2L331.5,169.2L332.0,169.2L332.5,169.2L333.0,169.2L333.5,169.2L334.0,169.2L334.5,169.2L335.0,169.2L335.5,169.2L336.0,169.2L336.5,169.2L337.0,169.2L337.5,169.2L338.0,169.2L338.5,169.2L339.0,169.2L339.5,169.2L340.0,169.2L340.5,169.2L341.0,169.2L341.5,169.2L342.0,169.2L342.5,169.2L343.0,169.2L343.5,169.1L344.0,168.9L344.5,168.5L345.0,168.0L345.5,167.5L346.0,166.9L346.5,166.2L347.0,165.2L347.5,164.1L348.0,162.8L348.5,161.3L349.0,159.8L349.5,158.1L350.0,156.3L350.5,154.1L351.0,151.6L351.5,148.8L352.0,146.0L352.5,143.3L353.0,140.8L353.5,138.5L354.0,136.3L354.5,134.1L355.0,131.8L355.5,129.2L356.0,126.5L356.5,123.5L357.0,120.5L357.5,117.3L358.0,114.2L358.5,111.1L359.0,108.2L359.5,105.4L360.0,102.7L360.5,100.0L361.0,97.4L361.5,94.8L362.0,92.2L362.5,89.7L363.0,87.2L363.5,84.7L364.0,82.3L364.5,79.8L365.0,77.2L365.5,74.8L366.0,72.3L366.5,70.1L367.0,68.0L367.5,66.2L368.0,64.5L368.5,62.8L369.0,61.3L369.5,59.8L370.0,58.5L370.5,57.4L371.0,56.3L371.5,55.2L372.0,54.3L372.5,53.4L373.0,52.5L373.5,51.7L374.0,50.9L374.5,50.2L375.0,49.5L375.5,48.8L376.0,48.2L376.5,47.6L377.0,47.0L377.5,46.4L378.0,45.9L378.5,45.4L379.0,45.0L379.5,44.6L380.0,44.2L380.5,43.9L381.0,43.6L381.5,43.3L382.0,43.0L382.5,42.7L383.0,42.4L383.5,42.2L384.0,41.9L384.5,41.7L385.0,41.5L385.5,41.3L386.0,41.1L386.5,40.9L387.0,40.7L387.5,40.6L388.0,40.4L388.5,40.2L389.0,40.0L389.5,39.9L390.0,39.7L390.5,39.6L391.0,39.4L391.5,39.3L392.0,39.1L392.5,39.0L393.0,38.9L393.5,38.7L394.0,38.6L394.5,38.5L395.0,38.3L395.5,38.2L396.0,38.1L396.5,38.0L397.0,37.9L397.5,37.8L398.0,37.6L398.5,37.5L399.0,37.4L399.5,37.3L400.0,37.2L400.5,37.1L401.0,37.0L401.5,36.9L402.0,36.8L402.5,36.7L403.0,36.6L403.5,36.5L404.0,36.4L404.5,36.3L405.0,36.2L405.5,36.1L406.0,36.1L406.5,36.0L407.0,35.9L407.5,35.8L408.0,35.7L408.5,35.6L409.0,35.5L409.5,35.5L410.0,35.4L410.5,35.3L411.0,35.2L411.5,35.2L412.0,35.1L412.5,35.0L413.0,35.0L413.5,34.9L414.0,34.8L414.5,34.8L415.0,34.7L415.5,34.6L416.0,34.6L416.5,34.5L417.0,34.5L417.5,34.4L418.0,34.4L418.5,34.3L419.0,34.3L419.5,34.2L420.0,34.2L420.5,34.2L421.0,34.1L421.5,34.1L422.0,34.0L422.5,34.0L423.0,34.0L423.5,33.9L424.0,33.9L424.5,33.8L425.0,33.8L425.5,33.8L426.0,33.7L426.5,33.7L427.0,33.7L427.5,33.6L428.0,33.6L428.5,33.6L429.0,33.5L429.5,33.5L430.0,33.4L430.5,33.4L431.0,33.4L431.5,33.3L432.0,33.3L432.5,33.3L433.0,33.2L433.5,33.2L434.0,33.2L434.5,33.1L435.0,33.1L435.5,33.1L436.0,33.0L436.5,33.0L437.0,33.0L437.5,32.9L438.0,32.9L438.5,32.9L439.0,32.8L439.5,32.8L440.0,32.8L440.5,32.7L441.0,32.7L441.5,32.7L442.0,32.6L442.5,32.6L443.0,32.6L443.5,32.5L444.0,32.5L444.5,32.5L445.0,32.4L445.5,32.4L446.0,32.4L446.5,32.4L447.0,32.4L447.5,32.3L448.0,32.3L448.5,32.3L449.0,32.3L449.5,32.3L450.0,32.2L450.5,32.2L451.0,32.2L451.5,32.2L452.0,32.2L452.5,32.2L453.0,32.2L453.5,32.2L454.0,32.1L454.5,32.1L455.0,32.1L455.5,32.1L456.0,32.1L456.5,32.1L457.0,32.1L457.5,32.1L458.0,32.1L458.5,32.0L459.0,32.0L459.5,32.0L460.0,32.0L460.5,32.0L461.0,32.0L461.5,32.0L462.0,32.0L462.5,32.0L463.0,32.0L463.5,31.9L464.0,31.9L464.5,31.9L465.0,31.9L465.5,31.9L466.0,31.9L466.5,31.9L467.0,31.9L467.5,31.9L468.0,31.9L468.5,31.9L469.0,31.9L469.5,31.9L470.0,31.8L470.5,31.8L471.0,31.8L471.5,31.8L472.0,31.8L472.5,31.8L473.0,31.8L473.5,31.8L474.0,31.8L474.5,31.8L475.0,31.8L475.5,31.8L476.0,31.8L476.5,31.8L477.0,31.8L477.5,31.8L478.0,31.8L478.5,31.8L479.0,31.8L479.5,31.8L480.0,31.8L480.5,31.8L481.0,31.8L481.5,31.8L482.0,31.8L482.5,31.8L483.0,31.8L483.5,31.8L484.0,31.8L484.5,31.8L485.0,31.8L485.5,31.8L486.0,31.8L486.5,31.8L487.0,31.8L487.5,31.8L488.0,31.8L488.5,31.8L489.0,31.8L489.5,31.8L490.0,31.8L490.5,31.8L491.0,31.8L491.5,31.8L492.0,31.8L492.5,31.8L493.0,31.8L493.5,31.8L494.0,31.8L494.5,31.8L495.0,31.8L495.5,31.8L496.0,31.8L496.5,31.8L497.0,31.8L497.5,31.8L498.0,31.8L498.5,31.8L499.0,31.8L499.5,31.8L500.0,31.8L500.5,31.8L501.0,31.8L501.5,31.8L502.0,31.8L502.5,31.8L503.0,31.8L503.5,31.8L504.0,31.8L504.5,31.8L505.0,31.8L505.5,31.8L506.0,31.8L506.5,31.8L507.0,31.8L507.5,31.8L508.0,31.8L508.5,31.8L509.0,31.8L509.5,31.8L510.0,31.8L510.5,31.8L511.0,31.8L511.5,31.8L512.0,31.8L512.5,31.8L513.0,31.8L513.5,31.8L514.0,31.8L514.5,31.8L515.0,31.8L515.5,31.8L516.0,31.8L516.5,31.8L517.0,31.8L517.5,31.8L518.0,31.8L518.5,31.8L519.0,31.8L519.5,31.8L520.0,31.8L520.5,31.8L521.0,31.8L521.5,31.8L522.0,31.8L522.5,31.8L523.0,31.8L523.5,31.8L524.0,31.8L524.5,31.8L525.0,31.8L525.5,31.8L526.0,31.8L526.5,31.8L527.0,31.8L527.5,31.8L528.0,31.8L528.5,31.8L529.0,31.8L529.5,31.8L530.0,31.8L530.5,31.8L531.0,31.8L531.5,31.8L532.0,31.8" fill="none" stroke="#ff0000" stroke-width="1.6" stroke-linejoin="round"/><path d="M322.5,169.2L323.0,169.2L323.5,169.2L324.0,169.2L324.5,169.2L325.0,169.2L325.5,169.2L326.0,169.2L326.5,169.2L327.0,169.2L327.5,169.2L328.0,169.2L328.5,169.2L329.0,169.2L329.5,169.2L330.0,169.2L330.5,169.2L331.0,169.2L331.5,169.2L332.0,169.2L332.5,169.2L333.0,169.2L333.5,169.2L334.0,169.2L334.5,169.2L335.0,169.2L335.5,169.2L336.0,169.2L336.5,169.2L337.0,169.2L337.5,169.2L338.0,169.2L338.5,169.2L339.0,169.2L339.5,169.2L340.0,169.2L340.5,169.2L341.0,169.2L341.5,169.2L342.0,169.2L342.5,169.2L343.0,169.2L343.5,169.1L344.0,168.9L344.5,168.5L345.0,168.0L345.5,167.5L346.0,166.9L346.5,166.2L347.0,165.2L347.5,164.1L348.0,162.8L348.5,161.3L349.0,159.8L349.5,158.1L350.0,156.3L350.5,154.1L351.0,151.6L351.5,148.8L352.0,146.0L352.5,143.3L353.0,140.8L353.5,138.5L354.0,136.3L354.5,134.1L355.0,131.8L355.5,129.2L356.0,126.5L356.5,123.5L357.0,120.5L357.5,117.3L358.0,114.2L358.5,111.1L359.0,108.2L359.5,105.4L360.0,102.7L360.5,100.0L361.0,97.4L361.5,94.9L362.0,92.3L362.5,89.8L363.0,87.4L363.5,85.0L364.0,82.6L364.5,80.2L365.0,77.7L365.5,75.3L366.0,72.8L366.5,70.5L367.0,68.3L367.5,66.2L368.0,64.4L368.5,62.8L369.0,61.4L369.5,60.2L370.0,59.2L370.5,58.4L371.0,57.6L371.5,56.9L372.0,56.2L372.5,55.5L373.0,54.8L373.5,53.9L374.0,53.2L374.5,52.6L375.0,52.1L375.5,51.8L376.0,51.5L376.5,51.2L377.0,51.0L377.5,50.7L378.0,50.5L378.5,50.3L379.0,50.2L379.5,50.0L380.0,49.8L380.5,49.7L381.0,49.5L381.5,49.4L382.0,49.3L382.5,49.1L383.0,49.0L383.5,48.9L384.0,48.7L384.5,48.6L385.0,48.5L385.5,48.3L386.0,48.2L386.5,48.0L387.0,47.9L387.5,47.7L388.0,47.6L388.5,47.4L389.0,47.3L389.5,47.2L390.0,47.0L390.5,46.9L391.0,46.7L391.5,46.6L392.0,46.5L392.5,46.3L393.0,46.2L393.5,46.1L394.0,45.9L394.5,45.8L395.0,45.7L395.5,45.5L396.0,45.4L396.5,45.3L397.0,45.2L397.5,45.0L398.0,44.9L398.5,44.8L399.0,44.7L399.5,44.5L400.0,44.4L400.5,44.3L401.0,44.2L401.5,44.0L402.0,43.9L402.5,43.8L403.0,43.7L403.5,43.6L404.0,43.4L404.5,43.3L405.0,43.2L405.5,43.1L406.0,43.0L406.5,42.9L407.0,42.8L407.5,42.7L408.0,42.6L408.5,42.5L409.0,42.4L409.5,42.3L410.0,42.2L410.5,42.1L411.0,42.0L411.5,41.9L412.0,41.8L412.5,41.7L413.0,41.6L413.5,41.5L414.0,41.4L414.5,41.3L415.0,41.2L415.5,41.1L416.0,41.0L416.5,40.9L417.0,40.8L417.5,40.7L418.0,40.7L418.5,40.6L419.0,40.5L419.5,40.4L420.0,40.3L420.5,40.2L421.0,40.1L421.5,40.1L422.0,40.0L422.5,39.9L423.0,39.8L423.5,39.8L424.0,39.7L424.5,39.6L425.0,39.5L425.5,39.5L426.0,39.4L426.5,39.3L427.0,39.2L427.5,39.2L428.0,39.1L428.5,39.0L429.0,39.0L429.5,38.9L430.0,38.8L430.5,38.8L431.0,38.7L431.5,38.6L432.0,38.6L432.5,38.5L433.0,38.4L433.5,38.4L434.0,38.3L434.5,38.2L435.0,38.2L435.5,38.1L436.0,38.1L436.5,38.0L437.0,37.9L437.5,37.9L438.0,37.8L438.5,37.8L439.0,37.7L439.5,37.7L440.0,37.6L440.5,37.5L441.0,37.5L441.5,37.4L442.0,37.4L442.5,37.3L443.0,37.3L443.5,37.2L444.0,37.1L444.5,37.1L445.0,37.0L445.5,37.0L446.0,36.9L446.5,36.9L447.0,36.8L447.5,36.8L448.0,36.7L448.5,36.7L449.0,36.7L449.5,36.6L450.0,36.6L450.5,36.5L451.0,36.5L451.5,36.5L452.0,36.4L452.5,36.4L453.0,36.3L453.5,36.3L454.0,36.3L454.5,36.2L455.0,36.2L455.5,36.2L456.0,36.1L456.5,36.1L457.0,36.1L457.5,36.0L458.0,36.0L458.5,36.0L459.0,35.9L459.5,35.9L460.0,35.9L460.5,35.8L461.0,35.8L461.5,35.8L462.0,35.7L462.5,35.7L463.0,35.7L463.5,35.6L464.0,35.6L464.5,35.6L465.0,35.6L465.5,35.5L466.0,35.5L466.5,35.5L467.0,35.4L467.5,35.4L468.0,35.4L468.5,35.4L469.0,35.3L469.5,35.3L470.0,35.3L470.5,35.3L471.0,35.2L471.5,35.2L472.0,35.2L472.5,35.2L473.0,35.1L473.5,35.1L474.0,35.1L474.5,35.1L475.0,35.1L475.5,35.0L476.0,35.0L476.5,35.0L477.0,35.0L477.5,34.9L478.0,34.9L478.5,34.9L479.0,34.9L479.5,34.9L480.0,34.9L480.5,34.8L481.0,34.8L481.5,34.8L482.0,34.8L482.5,34.8L483.0,34.8L483.5,34.7L484.0,34.7L484.5,34.7L485.0,34.7L485.5,34.7L486.0,34.7L486.5,34.6L487.0,34.6L487.5,34.6L488.0,34.6L488.5,34.6L489.0,34.6L489.5,34.5L490.0,34.5L490.5,34.5L491.0,34.5L491.5,34.5L492.0,34.5L492.5,34.4L493.0,34.4L493.5,34.4L494.0,34.4L494.5,34.4L495.0,34.4L495.5,34.3L496.0,34.3L496.5,34.3L497.0,34.3L497.5,34.3L498.0,34.3L498.5,34.2L499.0,34.2L499.5,34.2L500.0,34.2L500.5,34.2L501.0,34.2L501.5,34.2L502.0,34.1L502.5,34.1L503.0,34.1L503.5,34.1L504.0,34.1L504.5,34.1L505.0,34.1L505.5,34.0L506.0,34.0L506.5,34.0L507.0,34.0L507.5,34.0L508.0,34.0L508.5,34.0L509.0,34.0L509.5,33.9L510.0,33.9L510.5,33.9L511.0,33.9L511.5,33.9L512.0,33.9L512.5,33.9L513.0,33.9L513.5,33.9L514.0,33.8L514.5,33.8L515.0,33.8L515.5,33.8L516.0,33.8L516.5,33.8L517.0,33.8L517.5,33.8L518.0,33.8L518.5,33.8L519.0,33.8L519.5,33.7L520.0,33.7L520.5,33.7L521.0,33.7L521.5,33.7L522.0,33.7L522.5,33.7L523.0,33.7L523.5,33.7L524.0,33.7L524.5,33.7L525.0,33.7L525.5,33.7L526.0,33.7L526.5,33.7L527.0,33.7L527.5,33.7L528.0,33.7L528.5,33.7L529.0,33.6L529.5,33.6L530.0,33.6L530.5,33.6L531.0,33.6L531.5,33.6L532.0,33.6" fill="none" stroke="#0000ff" stroke-width="1.6" stroke-linejoin="round"/><path d="M322.5,169.2L323.0,169.2L323.5,169.2L324.0,169.2L324.5,169.2L325.0,169.2L325.5,169.2L326.0,169.2L326.5,169.2L327.0,169.2L327.5,169.2L328.0,169.2L328.5,169.2L329.0,169.2L329.5,169.2L330.0,169.2L330.5,169.2L331.0,169.2L331.5,169.2L332.0,169.2L332.5,169.2L333.0,169.2L333.5,169.2L334.0,169.2L334.5,169.2L335.0,169.2L335.5,169.2L336.0,169.2L336.5,169.2L337.0,169.2L337.5,169.2L338.0,169.2L338.5,169.2L339.0,169.2L339.5,169.2L340.0,169.2L340.5,169.2L341.0,169.2L341.5,169.2L342.0,169.2L342.5,169.2L343.0,169.2L343.5,169.2L344.0,169.2L344.5,169.2L345.0,169.0L345.5,168.7L346.0,168.4L346.5,168.0L347.0,167.6L347.5,167.2L348.0,166.7L348.5,166.1L349.0,165.4L349.5,164.7L350.0,163.8L350.5,162.9L351.0,161.8L351.5,160.4L352.0,158.8L352.5,157.1L353.0,155.1L353.5,152.9L354.0,150.6L354.5,148.2L355.0,145.1L355.5,141.2L356.0,137.0L356.5,133.0L357.0,129.8L357.5,127.2L358.0,124.9L358.5,122.8L359.0,120.9L359.5,119.0L360.0,117.1L360.5,115.2L361.0,113.1L361.5,111.1L362.0,109.1L362.5,107.1L363.0,105.1L363.5,103.1L364.0,101.1L364.5,99.2L365.0,97.3L365.5,95.3L366.0,93.4L366.5,91.5L367.0,89.6L367.5,87.8L368.0,86.1L368.5,84.6L369.0,83.2L369.5,81.9L370.0,80.7L370.5,79.4L371.0,78.0L371.5,76.8L372.0,75.8L372.5,75.0L373.0,74.4L373.5,73.9L374.0,73.4L374.5,72.9L375.0,72.5L375.5,72.0L376.0,71.6L376.5,71.1L377.0,70.7L377.5,70.3L378.0,69.9L378.5,69.5L379.0,69.1L379.5,68.7L380.0,68.4L380.5,68.0L381.0,67.6L381.5,67.3L382.0,66.9L382.5,66.6L383.0,66.3L383.5,65.9L384.0,65.6L384.5,65.3L385.0,64.9L385.5,64.6L386.0,64.2L386.5,63.9L387.0,63.5L387.5,63.1L388.0,62.7L388.5,62.3L389.0,62.0L389.5,61.6L390.0,61.2L390.5,60.8L391.0,60.4L391.5,60.0L392.0,59.6L392.5,59.2L393.0,58.8L393.5,58.4L394.0,58.0L394.5,57.6L395.0,57.2L395.5,56.8L396.0,56.4L396.5,56.0L397.0,55.6L397.5,55.2L398.0,54.8L398.5,54.4L399.0,54.0L399.5,53.6L400.0,53.2L400.5,52.8L401.0,52.4L401.5,52.0L402.0,51.5L402.5,51.1L403.0,50.7L403.5,50.3L404.0,49.8L404.5,49.4L405.0,49.0L405.5,48.5L406.0,48.1L406.5,47.7L407.0,47.3L407.5,46.9L408.0,46.6L408.5,46.2L409.0,45.9L409.5,45.5L410.0,45.2L410.5,44.9L411.0,44.6L411.5,44.3L412.0,44.0L412.5,43.7L413.0,43.4L413.5,43.1L414.0,42.8L414.5,42.6L415.0,42.3L415.5,42.1L416.0,41.8L416.5,41.6L417.0,41.3L417.5,41.1L418.0,40.9L418.5,40.6L419.0,40.4L419.5,40.2L420.0,40.0L420.5,39.8L421.0,39.6L421.5,39.4L422.0,39.2L422.5,39.0L423.0,38.8L423.5,38.6L424.0,38.5L424.5,38.3L425.0,38.1L425.5,38.0L426.0,37.8L426.5,37.7L427.0,37.5L427.5,37.4L428.0,37.2L428.5,37.1L429.0,36.9L429.5,36.8L430.0,36.7L430.5,36.6L431.0,36.4L431.5,36.3L432.0,36.2L432.5,36.1L433.0,36.0L433.5,35.9L434.0,35.8L434.5,35.7L435.0,35.6L435.5,35.5L436.0,35.4L436.5,35.3L437.0,35.2L437.5,35.2L438.0,35.1L438.5,35.0L439.0,34.9L439.5,34.9L440.0,34.8L440.5,34.8L441.0,34.7L441.5,34.6L442.0,34.6L442.5,34.5L443.0,34.5L443.5,34.4L444.0,34.4L444.5,34.3L445.0,34.3L445.5,34.2L446.0,34.2L446.5,34.1L447.0,34.1L447.5,34.1L448.0,34.0L448.5,34.0L449.0,34.0L449.5,34.0L450.0,33.9L450.5,33.9L451.0,33.9L451.5,33.9L452.0,33.9L452.5,33.9L453.0,33.9L453.5,33.8L454.0,33.8L454.5,33.8L455.0,33.8L455.5,33.8L456.0,33.8L456.5,33.8L457.0,33.8L457.5,33.8L458.0,33.7L458.5,33.7L459.0,33.7L459.5,33.7L460.0,33.7L460.5,33.7L461.0,33.7L461.5,33.7L462.0,33.7L462.5,33.7L463.0,33.7L463.5,33.6L464.0,33.6L464.5,33.6L465.0,33.6L465.5,33.6L466.0,33.6L466.5,33.6L467.0,33.6L467.5,33.6L468.0,33.6L468.5,33.6L469.0,33.6L469.5,33.6L470.0,33.6L470.5,33.6L471.0,33.5L471.5,33.5L472.0,33.5L472.5,33.5L473.0,33.5L473.5,33.5L474.0,33.5L474.5,33.5L475.0,33.5L475.5,33.5L476.0,33.5L476.5,33.5L477.0,33.5L477.5,33.5L478.0,33.5L478.5,33.5L479.0,33.5L479.5,33.5L480.0,33.5L480.5,33.5L481.0,33.5L481.5,33.5L482.0,33.5L482.5,33.5L483.0,33.5L483.5,33.5L484.0,33.5L484.5,33.5L485.0,33.5L485.5,33.5L486.0,33.5L486.5,33.4L487.0,33.4L487.5,33.4L488.0,33.4L488.5,33.4L489.0,33.4L489.5,33.4L490.0,33.4L490.5,33.4L491.0,33.4L491.5,33.4L492.0,33.4L492.5,33.4L493.0,33.4L493.5,33.4L494.0,33.4L494.5,33.4L495.0,33.4L495.5,33.4L496.0,33.4L496.5,33.4L497.0,33.4L497.5,33.4L498.0,33.4L498.5,33.4L499.0,33.4L499.5,33.4L500.0,33.4L500.5,33.4L501.0,33.4L501.5,33.4L502.0,33.4L502.5,33.4L503.0,33.4L503.5,33.4L504.0,33.4L504.5,33.4L505.0,33.4L505.5,33.4L506.0,33.4L506.5,33.4L507.0,33.4L507.5,33.4L508.0,33.4L508.5,33.4L509.0,33.4L509.5,33.4L510.0,33.4L510.5,33.4L511.0,33.4L511.5,33.4L512.0,33.4L512.5,33.4L513.0,33.4L513.5,33.3L514.0,33.3L514.5,33.3L515.0,33.3L515.5,33.3L516.0,33.3L516.5,33.3L517.0,33.3L517.5,33.3L518.0,33.3L518.5,33.3L519.0,33.3L519.5,33.3L520.0,33.3L520.5,33.3L521.0,33.3L521.5,33.3L522.0,33.3L522.5,33.3L523.0,33.3L523.5,33.3L524.0,33.3L524.5,33.3L525.0,33.3L525.5,33.3L526.0,33.3L526.5,33.3L527.0,33.3L527.5,33.3L528.0,33.3L528.5,33.3L529.0,33.3L529.5,33.3L530.0,33.3L530.5,33.3L531.0,33.3L531.5,33.3L532.0,33.3" fill="none" stroke="#ff00ff" stroke-width="1.6" stroke-linejoin="round"/><path d="M322.5,169.2L323.0,169.2L323.5,169.2L324.0,169.2L324.5,169.2L325.0,169.2L325.5,169.2L326.0,169.2L326.5,169.2L327.0,169.2L327.5,169.2L328.0,169.2L328.5,169.2L329.0,169.2L329.5,169.2L330.0,169.2L330.5,169.2L331.0,169.2L331.5,169.2L332.0,169.2L332.5,169.2L333.0,169.2L333.5,169.2L334.0,169.2L334.5,169.2L335.0,169.2L335.5,169.2L336.0,169.2L336.5,169.2L337.0,169.2L337.5,169.2L338.0,169.2L338.5,169.2L339.0,169.2L339.5,169.2L340.0,169.2L340.5,169.2L341.0,169.2L341.5,169.2L342.0,169.2L342.5,169.2L343.0,169.2L343.5,169.2L344.0,169.2L344.5,169.2L345.0,169.2L345.5,169.2L346.0,169.1L346.5,169.0L347.0,168.8L347.5,168.6L348.0,168.4L348.5,168.1L349.0,167.8L349.5,167.4L350.0,166.8L350.5,166.1L351.0,165.2L351.5,164.2L352.0,163.1L352.5,161.9L353.0,160.5L353.5,158.6L354.0,156.1L354.5,153.2L355.0,150.1L355.5,147.0L356.0,144.2L356.5,141.2L357.0,138.2L357.5,135.2L358.0,132.4L358.5,129.8L359.0,127.5L359.5,125.3L360.0,123.2L360.5,121.1L361.0,119.2L361.5,117.3L362.0,115.4L362.5,113.6L363.0,111.8L363.5,110.1L364.0,108.3L364.5,106.6L365.0,105.0L365.5,103.5L366.0,102.1L366.5,100.8L367.0,99.6L367.5,98.4L368.0,97.2L368.5,96.1L369.0,95.1L369.5,94.1L370.0,93.2L370.5,92.3L371.0,91.5L371.5,90.7L372.0,89.9L372.5,89.1L373.0,88.4L373.5,87.8L374.0,87.1L374.5,86.5L375.0,86.0L375.5,85.5L376.0,85.0L376.5,84.6L377.0,84.1L377.5,83.7L378.0,83.3L378.5,82.9L379.0,82.5L379.5,82.1L380.0,81.7L380.5,81.3L381.0,80.9L381.5,80.5L382.0,80.1L382.5,79.7L383.0,79.3L383.5,78.9L384.0,78.5L384.5,78.1L385.0,77.7L385.5,77.3L386.0,76.9L386.5,76.5L387.0,76.1L387.5,75.7L388.0,75.3L388.5,74.9L389.0,74.4L389.5,74.0L390.0,73.6L390.5,73.1L391.0,72.7L391.5,72.2L392.0,71.8L392.5,71.3L393.0,70.9L393.5,70.4L394.0,69.9L394.5,69.5L395.0,69.0L395.5,68.5L396.0,68.1L396.5,67.6L397.0,67.1L397.5,66.6L398.0,66.1L398.5,65.6L399.0,65.1L399.5,64.6L400.0,64.1L400.5,63.6L401.0,63.1L401.5,62.6L402.0,62.1L402.5,61.6L403.0,61.1L403.5,60.6L404.0,60.0L404.5,59.5L405.0,59.0L405.5,58.4L406.0,57.8L406.5,57.3L407.0,56.7L407.5,56.1L408.0,55.6L408.5,55.0L409.0,54.4L409.5,53.9L410.0,53.3L410.5,52.8L411.0,52.3L411.5,51.8L412.0,51.3L412.5,50.8L413.0,50.3L413.5,49.8L414.0,49.3L414.5,48.9L415.0,48.4L415.5,48.0L416.0,47.5L416.5,47.1L417.0,46.6L417.5,46.2L418.0,45.8L418.5,45.4L419.0,45.0L419.5,44.7L420.0,44.3L420.5,44.0L421.0,43.6L421.5,43.2L422.0,42.9L422.5,42.6L423.0,42.2L423.5,41.9L424.0,41.6L424.5,41.3L425.0,41.0L425.5,40.8L426.0,40.5L426.5,40.2L427.0,40.0L427.5,39.8L428.0,39.6L428.5,39.4L429.0,39.2L429.5,39.0L430.0,38.8L430.5,38.6L431.0,38.4L431.5,38.3L432.0,38.1L432.5,38.0L433.0,37.8L433.5,37.7L434.0,37.6L434.5,37.4L435.0,37.3L435.5,37.2L436.0,37.1L436.5,37.0L437.0,36.9L437.5,36.8L438.0,36.7L438.5,36.6L439.0,36.5L439.5,36.4L440.0,36.3L440.5,36.2L441.0,36.1L441.5,36.0L442.0,36.0L442.5,35.9L443.0,35.8L443.5,35.7L444.0,35.7L444.5,35.6L445.0,35.5L445.5,35.5L446.0,35.4L446.5,35.3L447.0,35.3L447.5,35.2L448.0,35.2L448.5,35.1L449.0,35.1L449.5,35.1L450.0,35.0L450.5,35.0L451.0,35.0L451.5,34.9L452.0,34.9L452.5,34.9L453.0,34.8L453.5,34.8L454.0,34.8L454.5,34.8L455.0,34.7L455.5,34.7L456.0,34.7L456.5,34.7L457.0,34.6L457.5,34.6L458.0,34.6L458.5,34.6L459.0,34.5L459.5,34.5L460.0,34.5L460.5,34.5L461.0,34.5L461.5,34.4L462.0,34.4L462.5,34.4L463.0,34.4L463.5,34.4L464.0,34.4L464.5,34.3L465.0,34.3L465.5,34.3L466.0,34.3L466.5,34.3L467.0,34.3L467.5,34.2L468.0,34.2L468.5,34.2L469.0,34.2L469.5,34.2L470.0,34.2L470.5,34.1L471.0,34.1L471.5,34.1L472.0,34.1L472.5,34.1L473.0,34.1L473.5,34.1L474.0,34.1L474.5,34.1L475.0,34.0L475.5,34.0L476.0,34.0L476.5,34.0L477.0,34.0L477.5,34.0L478.0,34.0L478.5,34.0L479.0,34.0L479.5,33.9L480.0,33.9L480.5,33.9L481.0,33.9L481.5,33.9L482.0,33.9L482.5,33.9L483.0,33.9L483.5,33.9L484.0,33.9L484.5,33.9L485.0,33.8L485.5,33.8L486.0,33.8L486.5,33.8L487.0,33.8L487.5,33.8L488.0,33.8L488.5,33.8L489.0,33.8L489.5,33.8L490.0,33.8L490.5,33.7L491.0,33.7L491.5,33.7L492.0,33.7L492.5,33.7L493.0,33.7L493.5,33.7L494.0,33.7L494.5,33.7L495.0,33.7L495.5,33.7L496.0,33.7L496.5,33.6L497.0,33.6L497.5,33.6L498.0,33.6L498.5,33.6L499.0,33.6L499.5,33.6L500.0,33.6L500.5,33.6L501.0,33.6L501.5,33.6L502.0,33.6L502.5,33.6L503.0,33.6L503.5,33.5L504.0,33.5L504.5,33.5L505.0,33.5L505.5,33.5L506.0,33.5L506.5,33.5L507.0,33.5L507.5,33.5L508.0,33.5L508.5,33.5L509.0,33.5L509.5,33.5L510.0,33.5L510.5,33.5L511.0,33.5L511.5,33.4L512.0,33.4L512.5,33.4L513.0,33.4L513.5,33.4L514.0,33.4L514.5,33.4L515.0,33.4L515.5,33.4L516.0,33.4L516.5,33.4L517.0,33.4L517.5,33.4L518.0,33.4L518.5,33.4L519.0,33.4L519.5,33.4L520.0,33.4L520.5,33.4L521.0,33.4L521.5,33.4L522.0,33.4L522.5,33.4L523.0,33.4L523.5,33.3L524.0,33.3L524.5,33.3L525.0,33.3L525.5,33.3L526.0,33.3L526.5,33.3L527.0,33.3L527.5,33.3L528.0,33.3L528.5,33.3L529.0,33.3L529.5,33.3L530.0,33.3L530.5,33.3L531.0,33.3L531.5,33.3L532.0,33.3" fill="none" stroke="#008000" stroke-width="1.6" stroke-linejoin="round"/><path d="M322.5,169.2L323.0,169.2L323.5,169.2L324.0,169.2L324.5,169.2L325.0,169.2L325.5,169.2L326.0,169.2L326.5,169.2L327.0,169.2L327.5,169.2L328.0,169.2L328.5,169.2L329.0,169.2L329.5,169.2L330.0,169.2L330.5,169.2L331.0,169.2L331.5,169.2L332.0,169.2L332.5,169.2L333.0,169.2L333.5,169.2L334.0,169.2L334.5,169.2L335.0,169.2L335.5,169.2L336.0,169.2L336.5,169.2L337.0,169.2L337.5,169.2L338.0,169.2L338.5,169.2L339.0,169.2L339.5,169.2L340.0,169.2L340.5,169.2L341.0,169.2L341.5,169.2L342.0,169.2L342.5,168.9L343.0,168.5L343.5,168.0L344.0,167.4L344.5,166.8L345.0,166.0L345.5,165.0L346.0,163.8L346.5,162.5L347.0,161.1L347.5,159.6L348.0,158.1L348.5,156.6L349.0,154.9L349.5,153.1L350.0,151.1L350.5,148.8L351.0,146.0L351.5,142.4L352.0,138.3L352.5,134.2L353.0,130.5L353.5,127.6L354.0,125.0L354.5,122.8L355.0,120.6L355.5,118.5L356.0,116.3L356.5,113.9L357.0,111.1L357.5,107.8L358.0,103.7L358.5,97.9L359.0,91.3L359.5,84.8L360.0,79.3L360.5,74.6L361.0,70.3L361.5,66.5L362.0,63.1L362.5,59.8L363.0,56.9L363.5,54.4L364.0,52.5L364.5,50.9L365.0,49.5L365.5,48.3L366.0,47.1L366.5,46.1L367.0,45.2L367.5,44.3L368.0,43.4L368.5,42.7L369.0,41.9L369.5,41.1L370.0,40.3L370.5,39.5L371.0,38.8L371.5,38.0L372.0,37.4L372.5,36.8L373.0,36.3L373.5,35.9L374.0,35.7L374.5,35.6L375.0,35.6L375.5,35.5L376.0,35.5L376.5,35.5L377.0,35.4L377.5,35.4L378.0,35.4L378.5,35.3L379.0,35.3L379.5,35.2L380.0,35.2L380.5,35.2L381.0,35.1L381.5,35.1L382.0,35.1L382.5,35.0L383.0,35.0L383.5,35.0L384.0,34.9L384.5,34.9L385.0,34.9L385.5,34.8L386.0,34.8L386.5,34.8L387.0,34.7L387.5,34.7L388.0,34.7L388.5,34.6L389.0,34.6L389.5,34.6L390.0,34.5L390.5,34.5L391.0,34.5L391.5,34.5L392.0,34.4L392.5,34.4L393.0,34.4L393.5,34.3L394.0,34.3L394.5,34.3L395.0,34.3L395.5,34.2L396.0,34.2L396.5,34.2L397.0,34.2L397.5,34.1L398.0,34.1L398.5,34.1L399.0,34.0L399.5,34.0L400.0,34.0L400.5,34.0L401.0,33.9L401.5,33.9L402.0,33.9L402.5,33.9L403.0,33.8L403.5,33.8L404.0,33.8L404.5,33.8L405.0,33.7L405.5,33.7L406.0,33.7L406.5,33.7L407.0,33.6L407.5,33.6L408.0,33.6L408.5,33.6L409.0,33.5L409.5,33.5L410.0,33.5L410.5,33.4L411.0,33.4L411.5,33.4L412.0,33.3L412.5,33.3L413.0,33.3L413.5,33.2L414.0,33.2L414.5,33.2L415.0,33.1L415.5,33.1L416.0,33.1L416.5,33.0L417.0,33.0L417.5,32.9L418.0,32.9L418.5,32.9L419.0,32.8L419.5,32.8L420.0,32.8L420.5,32.7L421.0,32.7L421.5,32.6L422.0,32.6L422.5,32.6L423.0,32.5L423.5,32.5L424.0,32.4L424.5,32.4L425.0,32.4L425.5,32.3L426.0,32.3L426.5,32.2L427.0,32.2L427.5,32.2L428.0,32.1L428.5,32.1L429.0,32.1L429.5,32.0L430.0,32.0L430.5,32.0L431.0,31.9L431.5,31.9L432.0,31.9L432.5,31.8L433.0,31.8L433.5,31.8L434.0,31.7L434.5,31.7L435.0,31.7L435.5,31.7L436.0,31.6L436.5,31.6L437.0,31.6L437.5,31.6L438.0,31.5L438.5,31.5L439.0,31.5L439.5,31.5L440.0,31.5L440.5,31.5L441.0,31.4L441.5,31.4L442.0,31.4L442.5,31.4L443.0,31.4L443.5,31.4L444.0,31.4L444.5,31.3L445.0,31.3L445.5,31.3L446.0,31.3L446.5,31.3L447.0,31.3L447.5,31.3L448.0,31.2L448.5,31.2L449.0,31.2L449.5,31.2L450.0,31.2L450.5,31.2L451.0,31.2L451.5,31.2L452.0,31.2L452.5,31.1L453.0,31.1L453.5,31.1L454.0,31.1L454.5,31.1L455.0,31.1L455.5,31.1L456.0,31.1L456.5,31.1L457.0,31.0L457.5,31.0L458.0,31.0L458.5,31.0L459.0,31.0L459.5,31.0L460.0,31.0L460.5,31.0L461.0,31.0L461.5,31.0L462.0,31.0L462.5,30.9L463.0,30.9L463.5,30.9L464.0,30.9L464.5,30.9L465.0,30.9L465.5,30.9L466.0,30.9L466.5,30.9L467.0,30.9L467.5,30.9L468.0,30.9L468.5,30.9L469.0,30.8L469.5,30.8L470.0,30.8L470.5,30.8L471.0,30.8L471.5,30.8L472.0,30.8L472.5,30.8L473.0,30.8L473.5,30.8L474.0,30.8L474.5,30.8L475.0,30.8L475.5,30.8L476.0,30.7L476.5,30.7L477.0,30.7L477.5,30.7L478.0,30.7L478.5,30.7L479.0,30.7L479.5,30.7L480.0,30.7L480.5,30.7L481.0,30.7L481.5,30.7L482.0,30.7L482.5,30.7L483.0,30.7L483.5,30.7L484.0,30.6L484.5,30.6L485.0,30.6L485.5,30.6L486.0,30.6L486.5,30.6L487.0,30.6L487.5,30.6L488.0,30.6L488.5,30.6L489.0,30.6L489.5,30.6L490.0,30.6L490.5,30.6L491.0,30.6L491.5,30.6L492.0,30.6L492.5,30.5L493.0,30.5L493.5,30.5L494.0,30.5L494.5,30.5L495.0,30.5L495.5,30.5L496.0,30.5L496.5,30.5L497.0,30.5L497.5,30.5L498.0,30.5L498.5,30.5L499.0,30.5L499.5,30.5L500.0,30.5L500.5,30.5L501.0,30.5L501.5,30.5L502.0,30.4L502.5,30.4L503.0,30.4L503.5,30.4L504.0,30.4L504.5,30.4L505.0,30.4L505.5,30.4L506.0,30.4L506.5,30.4L507.0,30.4L507.5,30.4L508.0,30.4L508.5,30.4L509.0,30.4L509.5,30.4L510.0,30.4L510.5,30.4L511.0,30.4L511.5,30.4L512.0,30.4L512.5,30.4L513.0,30.3L513.5,30.3L514.0,30.3L514.5,30.3L515.0,30.3L515.5,30.3L516.0,30.3L516.5,30.3L517.0,30.3L517.5,30.3L518.0,30.3L518.5,30.3L519.0,30.3L519.5,30.3L520.0,30.3L520.5,30.3L521.0,30.3L521.5,30.3L522.0,30.3L522.5,30.3L523.0,30.3L523.5,30.3L524.0,30.3L524.5,30.3L525.0,30.3L525.5,30.3L526.0,30.3L526.5,30.3L527.0,30.3L527.5,30.3L528.0,30.3L528.5,30.3L529.0,30.2L529.5,30.2L530.0,30.2L530.5,30.2L531.0,30.2L531.5,30.2L532.0,30.2" fill="none" stroke="#00ffff" stroke-width="1.6" stroke-linejoin="round"/><path d="M46.1,390.1L46.6,390.2L47.2,390.1L47.7,389.4L48.2,390.2L48.7,390.2L49.3,389.7L49.8,390.2L50.3,390.1L50.8,390.1L51.4,390.0L51.9,390.2L52.4,389.6L52.9,389.9L53.5,389.8L54.0,390.2L54.5,390.0L55.0,389.8L55.6,389.6L56.1,389.9L56.6,390.0L57.2,389.8L57.7,390.2L58.2,390.2L58.7,388.7L59.3,389.1L59.8,389.9L60.3,389.8L60.8,390.1L61.4,390.1L61.9,390.2L62.4,389.5L62.9,389.8L63.5,390.2L64.0,390.2L64.5,390.2L65.0,389.7L65.6,389.2L66.1,390.0L66.6,390.0L67.2,389.4L67.7,389.7L68.2,389.9L68.7,389.5L69.3,389.9L69.8,390.0L70.3,390.0L70.8,389.7L71.4,390.2L71.9,390.2L72.4,390.1L72.9,389.6L73.5,390.2L74.0,389.7L74.5,390.2L75.0,389.5L75.6,390.2L76.1,390.0L76.6,389.4L77.1,389.8L77.7,390.0L78.2,390.1L78.7,389.5L79.3,389.5L79.8,390.1L80.3,389.8L80.8,390.1L81.4,390.2L81.9,389.2L82.4,390.1L82.9,390.2L83.5,389.6L84.0,389.3L84.5,389.8L85.0,389.4L85.6,389.6L86.1,388.9L86.6,388.2L87.1,388.7L87.7,388.3L88.2,388.7L88.7,388.3L89.3,387.5L89.8,387.7L90.3,388.6L90.8,388.5L91.4,387.9L91.9,388.3L92.4,388.5L92.9,388.5L93.5,388.7L94.0,388.5L94.5,388.4L95.0,388.4L95.6,389.1L96.1,387.7L96.6,388.7L97.1,388.9L97.7,388.3L98.2,389.2L98.7,388.8L99.3,389.6L99.8,389.2L100.3,389.7L100.8,390.0L101.4,389.6L101.9,389.1L102.4,388.8L102.9,390.2L103.5,389.5L104.0,389.3L104.5,389.6L105.0,389.5L105.6,390.0L106.1,389.5L106.6,389.3L107.1,388.8L107.7,389.0L108.2,388.0L108.7,388.5L109.2,388.5L109.8,386.6L110.3,385.7L110.8,386.7L111.4,387.1L111.9,385.0L112.4,384.4L112.9,384.8L113.5,383.8L114.0,383.7L114.5,383.6L115.0,383.9L115.6,383.3L116.1,383.6L116.6,383.3L117.1,383.0L117.7,383.2L118.2,382.9L118.7,383.3L119.2,382.9L119.8,382.9L120.3,384.1L120.8,383.5L121.4,383.6L121.9,383.9L122.4,383.6L122.9,383.9L123.5,384.5L124.0,384.8L124.5,384.6L125.0,385.9L125.6,385.7L126.1,386.0L126.6,386.6L127.1,387.3L127.7,388.7L128.2,387.7L128.7,388.6L129.2,387.8L129.8,389.0L130.3,389.7L130.8,389.3L131.4,389.2L131.9,389.7L132.4,389.9L132.9,390.0L133.5,390.2L134.0,389.9L134.5,389.6L135.0,389.8L135.6,389.8L136.1,389.9L136.6,389.9L137.1,390.0L137.7,389.1L138.2,390.2L138.7,389.6L139.2,389.4L139.8,390.2L140.3,390.2L140.8,390.1L141.4,390.0L141.9,389.5L142.4,390.2L142.9,390.2L143.5,389.4L144.0,389.5L144.5,389.9L145.0,389.2L145.6,390.0L146.1,389.7L146.6,390.2L147.1,390.2L147.7,388.7L148.2,389.9L148.7,389.2L149.2,390.2L149.8,390.0L150.3,390.1L150.8,389.4L151.4,390.2L151.9,390.2L152.4,389.4L152.9,390.0L153.5,389.5L154.0,389.7L154.5,389.1L155.0,390.2L155.6,389.1L156.1,389.4L156.6,389.7L157.1,389.2L157.7,389.4L158.2,389.3L158.7,389.6L159.2,389.2L159.8,389.6L160.3,389.7L160.8,389.7L161.3,389.9L161.9,389.8L162.4,390.2L162.9,389.7L163.5,389.8L164.0,389.6L164.5,389.7L165.0,389.3L165.6,390.1L166.1,389.4L166.6,389.6L167.1,390.1L167.7,390.1L168.2,389.7L168.7,389.0L169.2,390.1L169.8,390.0L170.3,389.3L170.8,390.2L171.3,389.6L171.9,389.4L172.4,389.9L172.9,389.8L173.5,390.0L174.0,389.2L174.5,390.2L175.0,389.6L175.6,389.2L176.1,390.2L176.6,389.7L177.1,390.0L177.7,389.7L178.2,389.9L178.7,390.0L179.2,389.6L179.8,390.2L180.3,389.7L180.8,389.5L181.3,389.9L181.9,390.1L182.4,389.8L182.9,389.5L183.5,390.2L184.0,389.1L184.5,389.4L185.0,389.9L185.6,389.3L186.1,389.9L186.6,389.9L187.1,390.2L187.7,389.5L188.2,389.5L188.7,389.9L189.2,388.6L189.8,390.2L190.3,389.2L190.8,389.0L191.3,389.7L191.9,389.1L192.4,388.2L192.9,389.2L193.5,389.1L194.0,388.4L194.5,388.3L195.0,388.5L195.6,387.8L196.1,388.3L196.6,388.1L197.1,387.6L197.7,387.2L198.2,387.6L198.7,387.2L199.2,388.0L199.8,387.5L200.3,387.7L200.8,387.4L201.3,387.4L201.9,386.9L202.4,387.5L202.9,388.0L203.4,387.0L204.0,386.8L204.5,387.0L205.0,386.8L205.6,386.7L206.1,387.1L206.6,386.9L207.1,387.7L207.7,387.0L208.2,387.2L208.7,387.5L209.2,387.0L209.8,387.8L210.3,386.8L210.8,386.8L211.3,387.0L211.9,387.2L212.4,386.7L212.9,387.4L213.4,386.8L214.0,388.4L214.5,387.9L215.0,387.8L215.6,387.9L216.1,388.3L216.6,388.6L217.1,388.4L217.7,388.7L218.2,389.2L218.7,389.2L219.2,389.9L219.8,390.1L220.3,389.7L220.8,390.0L221.3,389.2L221.9,390.1L222.4,389.9L222.9,390.1L223.4,390.2L224.0,388.9L224.5,390.0L225.0,389.4L225.6,390.2L226.1,389.3L226.6,389.7L227.1,390.0L227.7,390.2L228.2,390.0L228.7,389.6L229.2,389.7L229.8,390.2L230.3,389.9L230.8,389.2L231.3,390.2L231.9,390.1L232.4,390.2L232.9,389.8L233.4,390.2L234.0,389.5L234.5,390.2L235.0,389.7L235.6,390.2L236.1,390.2L236.6,389.6L237.1,389.9L237.7,390.0L238.2,390.2L238.7,390.2L239.2,389.4L239.8,390.2L240.3,390.2L240.8,390.2L241.3,389.2L241.9,389.7L242.4,390.2L242.9,389.4L243.4,389.4L244.0,390.2L244.5,390.2L245.0,389.7L245.5,390.2L246.1,390.0L246.6,390.2L247.1,390.0L247.7,390.2L248.2,389.6L248.7,389.9L249.2,389.9L249.8,390.2L250.3,390.2L250.8,389.6L251.3,390.2L251.9,390.2L252.4,389.9L252.9,389.9L253.4,389.9L254.0,389.2L254.5,390.1L255.0,390.1L255.5,389.6L256.1,390.2L256.6,389.4" fill="none" stroke="#000000" stroke-width="1.6" stroke-linejoin="round"/><path d="M46.1,389.5L46.6,389.2L47.2,389.2L47.7,388.3L48.2,390.2L48.7,389.9L49.3,389.3L49.8,389.8L50.3,389.6L50.8,389.2L51.4,389.9L51.9,389.3L52.4,389.3L52.9,389.1L53.5,389.7L54.0,389.4L54.5,389.7L55.0,389.2L55.6,389.5L56.1,389.1L56.6,389.8L57.2,389.5L57.7,389.6L58.2,389.6L58.7,389.0L59.3,389.8L59.8,390.2L60.3,388.7L60.8,388.7L61.4,388.8L61.9,389.8L62.4,389.5L62.9,390.0L63.5,389.8L64.0,389.6L64.5,389.6L65.0,389.4L65.6,389.9L66.1,389.0L66.6,389.3L67.2,389.6L67.7,390.2L68.2,389.1L68.7,389.0L69.3,389.2L69.8,389.9L70.3,389.4L70.8,390.1L71.4,388.6L71.9,390.0L72.4,389.9L72.9,388.8L73.5,389.5L74.0,390.0L74.5,389.5L75.0,389.8L75.6,390.2L76.1,389.4L76.6,388.8L77.1,388.1L77.7,388.3L78.2,387.5L78.7,387.4L79.3,387.9L79.8,388.7L80.3,388.3L80.8,388.4L81.4,388.0L81.9,389.4L82.4,388.6L82.9,388.9L83.5,387.9L84.0,387.1L84.5,387.2L85.0,386.4L85.6,385.2L86.1,384.5L86.6,384.9L87.1,383.5L87.7,383.1L88.2,382.4L88.7,381.9L89.3,382.5L89.8,381.9L90.3,381.5L90.8,381.9L91.4,381.6L91.9,382.2L92.4,382.8L92.9,382.1L93.5,383.4L94.0,382.7L94.5,383.3L95.0,383.2L95.6,383.7L96.1,384.0L96.6,383.9L97.1,384.0L97.7,384.1L98.2,384.2L98.7,384.0L99.3,384.9L99.8,385.6L100.3,386.3L100.8,386.6L101.4,387.9L101.9,387.3L102.4,387.3L102.9,388.7L103.5,387.5L104.0,388.6L104.5,387.9L105.0,388.6L105.6,387.5L106.1,388.8L106.6,388.2L107.1,387.7L107.7,388.7L108.2,388.1L108.7,387.3L109.2,385.8L109.8,384.7L110.3,383.0L110.8,381.3L111.4,378.9L111.9,375.7L112.4,373.0L112.9,370.3L113.5,367.3L114.0,365.5L114.5,364.1L115.0,362.9L115.6,361.8L116.1,359.6L116.6,359.4L117.1,358.6L117.7,359.4L118.2,358.3L118.7,358.6L119.2,357.9L119.8,357.9L120.3,358.5L120.8,358.5L121.4,359.2L121.9,359.0L122.4,361.2L122.9,361.7L123.5,364.2L124.0,364.8L124.5,367.7L125.0,369.8L125.6,373.1L126.1,374.8L126.6,376.9L127.1,378.9L127.7,380.3L128.2,382.0L128.7,383.5L129.2,384.5L129.8,385.1L130.3,385.4L130.8,386.2L131.4,387.0L131.9,386.5L132.4,388.1L132.9,387.9L133.5,388.1L134.0,388.9L134.5,388.9L135.0,388.8L135.6,388.4L136.1,389.1L136.6,389.2L137.1,388.7L137.7,389.6L138.2,389.4L138.7,388.3L139.2,389.3L139.8,388.7L140.3,389.9L140.8,389.8L141.4,388.9L141.9,389.1L142.4,389.5L142.9,389.4L143.5,390.2L144.0,389.9L144.5,389.4L145.0,389.8L145.6,388.6L146.1,389.7L146.6,389.9L147.1,389.5L147.7,389.2L148.2,389.8L148.7,390.2L149.2,389.6L149.8,389.0L150.3,390.1L150.8,388.6L151.4,389.6L151.9,389.1L152.4,389.6L152.9,388.7L153.5,389.5L154.0,388.9L154.5,387.9L155.0,387.6L155.6,388.3L156.1,388.9L156.6,388.3L157.1,388.3L157.7,388.2L158.2,388.7L158.7,388.6L159.2,388.7L159.8,388.3L160.3,389.4L160.8,389.6L161.3,388.5L161.9,390.2L162.4,389.7L162.9,389.2L163.5,388.6L164.0,389.8L164.5,389.7L165.0,389.2L165.6,388.7L166.1,390.1L166.6,389.3L167.1,389.3L167.7,390.2L168.2,390.2L168.7,390.0L169.2,389.4L169.8,389.9L170.3,388.5L170.8,389.6L171.3,389.2L171.9,389.0L172.4,388.9L172.9,389.8L173.5,389.6L174.0,389.7L174.5,390.0L175.0,389.2L175.6,389.0L176.1,388.8L176.6,389.4L177.1,389.9L177.7,389.5L178.2,389.9L178.7,389.0L179.2,389.4L179.8,389.2L180.3,389.0L180.8,390.2L181.3,390.0L181.9,389.2L182.4,389.2L182.9,389.5L183.5,388.9L184.0,389.7L184.5,389.0L185.0,389.4L185.6,389.1L186.1,389.3L186.6,388.9L187.1,388.7L187.7,388.9L188.2,388.9L188.7,389.0L189.2,389.0L189.8,389.5L190.3,389.0L190.8,388.3L191.3,388.5L191.9,387.5L192.4,388.2L192.9,387.5L193.5,386.4L194.0,387.0L194.5,386.7L195.0,384.8L195.6,385.3L196.1,385.2L196.6,384.2L197.1,384.3L197.7,384.0L198.2,384.3L198.7,383.7L199.2,384.3L199.8,382.5L200.3,382.7L200.8,381.8L201.3,381.4L201.9,380.3L202.4,379.4L202.9,379.4L203.4,379.6L204.0,379.6L204.5,378.8L205.0,378.5L205.6,377.8L206.1,378.9L206.6,378.9L207.1,378.3L207.7,378.7L208.2,378.5L208.7,379.9L209.2,379.7L209.8,379.9L210.3,380.5L210.8,381.0L211.3,381.2L211.9,381.5L212.4,382.2L212.9,382.7L213.4,384.3L214.0,385.9L214.5,384.9L215.0,386.4L215.6,387.2L216.1,387.0L216.6,387.9L217.1,387.7L217.7,389.0L218.2,388.5L218.7,389.0L219.2,389.4L219.8,389.0L220.3,388.4L220.8,389.1L221.3,389.7L221.9,389.4L222.4,389.6L222.9,389.0L223.4,389.6L224.0,389.9L224.5,389.6L225.0,390.2L225.6,389.5L226.1,389.1L226.6,388.8L227.1,390.1L227.7,389.5L228.2,390.0L228.7,389.8L229.2,390.2L229.8,390.1L230.3,389.4L230.8,389.7L231.3,390.0L231.9,389.0L232.4,390.2L232.9,390.1L233.4,390.0L234.0,389.5L234.5,389.7L235.0,389.0L235.6,389.6L236.1,389.3L236.6,389.6L237.1,389.3L237.7,389.7L238.2,390.1L238.7,389.0L239.2,390.0L239.8,388.6L240.3,388.6L240.8,389.5L241.3,389.5L241.9,389.7L242.4,388.8L242.9,389.5L243.4,389.6L244.0,390.1L244.5,389.5L245.0,389.7L245.5,389.0L246.1,389.4L246.6,389.3L247.1,389.8L247.7,389.0L248.2,389.1L248.7,389.7L249.2,390.2L249.8,389.6L250.3,389.5L250.8,389.2L251.3,389.9L251.9,389.6L252.4,390.2L252.9,389.5L253.4,389.0L254.0,389.1L254.5,389.0L255.0,388.9L255.5,390.0L256.1,389.8L256.6,388.9" fill="none" stroke="#ff0000" stroke-width="1.6" stroke-linejoin="round"/><path d="M46.1,390.0L46.6,387.9L47.2,389.2L47.7,388.8L48.2,388.8L48.7,388.9L49.3,388.1L49.8,388.9L50.3,388.6L50.8,390.2L51.4,389.1L51.9,388.8L52.4,388.9L52.9,388.7L53.5,388.5L54.0,388.8L54.5,389.2L55.0,388.9L55.6,389.4L56.1,388.9L56.6,389.0L57.2,389.7L57.7,389.2L58.2,388.7L58.7,388.9L59.3,389.2L59.8,389.8L60.3,388.8L60.8,388.8L61.4,389.4L61.9,388.5L62.4,388.8L62.9,389.3L63.5,389.1L64.0,388.9L64.5,389.2L65.0,387.6L65.6,389.3L66.1,388.4L66.6,388.1L67.2,389.0L67.7,389.1L68.2,388.6L68.7,388.3L69.3,388.8L69.8,388.8L70.3,389.4L70.8,389.1L71.4,388.9L71.9,389.3L72.4,388.7L72.9,388.3L73.5,389.0L74.0,388.9L74.5,388.5L75.0,388.1L75.6,388.4L76.1,387.0L76.6,387.6L77.1,386.1L77.7,384.0L78.2,383.6L78.7,383.0L79.3,385.1L79.8,384.9L80.3,386.5L80.8,388.0L81.4,388.2L81.9,386.2L82.4,386.1L82.9,385.6L83.5,384.3L84.0,384.1L84.5,381.6L85.0,380.9L85.6,378.6L86.1,377.6L86.6,374.9L87.1,373.0L87.7,371.2L88.2,371.8L88.7,370.7L89.3,370.4L89.8,370.3L90.3,369.8L90.8,369.5L91.4,369.6L91.9,369.8L92.4,371.1L92.9,370.3L93.5,371.3L94.0,372.0L94.5,372.9L95.0,373.8L95.6,373.5L96.1,373.8L96.6,375.0L97.1,375.9L97.7,376.0L98.2,376.1L98.7,376.1L99.3,377.1L99.8,378.0L100.3,379.7L100.8,380.0L101.4,381.5L101.9,382.4L102.4,383.7L102.9,384.2L103.5,385.7L104.0,385.7L104.5,386.0L105.0,384.7L105.6,385.5L106.1,385.2L106.6,385.3L107.1,383.7L107.7,384.9L108.2,384.3L108.7,382.0L109.2,379.3L109.8,375.5L110.3,371.6L110.8,366.3L111.4,360.7L111.9,353.0L112.4,346.3L112.9,338.7L113.5,332.5L114.0,326.5L114.5,322.3L115.0,317.2L115.6,313.8L116.1,310.1L116.6,309.0L117.1,307.5L117.7,306.2L118.2,305.7L118.7,306.2L119.2,305.6L119.8,305.6L120.3,306.5L120.8,308.2L121.4,308.1L121.9,310.0L122.4,312.9L122.9,316.3L123.5,320.5L124.0,324.7L124.5,330.4L125.0,339.0L125.6,345.5L126.1,351.4L126.6,355.7L127.1,360.7L127.7,365.1L128.2,368.4L128.7,371.8L129.2,374.4L129.8,377.1L130.3,379.7L130.8,380.7L131.4,381.9L131.9,383.3L132.4,384.1L132.9,385.2L133.5,384.1L134.0,385.9L134.5,385.7L135.0,386.4L135.6,387.0L136.1,387.3L136.6,387.4L137.1,387.2L137.7,388.0L138.2,387.2L138.7,387.4L139.2,387.9L139.8,387.4L140.3,388.8L140.8,388.3L141.4,389.0L141.9,388.1L142.4,388.0L142.9,388.3L143.5,388.5L144.0,388.0L144.5,388.4L145.0,388.3L145.6,389.0L146.1,388.0L146.6,388.8L147.1,388.0L147.7,387.8L148.2,387.9L148.7,387.7L149.2,388.2L149.8,388.6L150.3,388.1L150.8,388.3L151.4,388.7L151.9,387.9L152.4,387.6L152.9,387.0L153.5,386.0L154.0,386.8L154.5,385.3L155.0,386.2L155.6,385.6L156.1,385.9L156.6,385.3L157.1,384.9L157.7,385.5L158.2,385.2L158.7,385.7L159.2,386.1L159.8,386.3L160.3,386.5L160.8,386.5L161.3,387.2L161.9,386.6L162.4,387.7L162.9,387.4L163.5,388.5L164.0,388.7L164.5,387.3L165.0,388.3L165.6,388.2L166.1,387.8L166.6,388.6L167.1,388.1L167.7,387.5L168.2,388.2L168.7,388.3L169.2,388.4L169.8,387.8L170.3,388.6L170.8,388.7L171.3,387.9L171.9,388.1L172.4,388.3L172.9,388.1L173.5,389.2L174.0,388.5L174.5,387.9L175.0,388.0L175.6,388.4L176.1,389.4L176.6,388.3L177.1,388.4L177.7,388.6L178.2,388.4L178.7,389.4L179.2,388.2L179.8,388.7L180.3,388.5L180.8,388.7L181.3,387.8L181.9,389.2L182.4,388.3L182.9,388.4L183.5,387.9L184.0,388.0L184.5,388.6L185.0,388.7L185.6,388.6L186.1,388.7L186.6,388.4L187.1,388.0L187.7,388.2L188.2,387.8L188.7,387.1L189.2,387.1L189.8,386.9L190.3,386.0L190.8,385.2L191.3,385.0L191.9,384.8L192.4,383.1L192.9,382.4L193.5,381.6L194.0,381.4L194.5,379.1L195.0,379.3L195.6,378.8L196.1,377.1L196.6,377.4L197.1,376.1L197.7,374.7L198.2,374.0L198.7,372.0L199.2,371.1L199.8,370.9L200.3,368.5L200.8,368.5L201.3,366.4L201.9,365.6L202.4,363.7L202.9,361.1L203.4,360.7L204.0,360.0L204.5,358.3L205.0,357.5L205.6,357.9L206.1,357.5L206.6,357.4L207.1,358.4L207.7,359.7L208.2,359.7L208.7,361.1L209.2,362.2L209.8,362.5L210.3,363.1L210.8,364.4L211.3,366.6L211.9,368.8L212.4,370.3L212.9,372.3L213.4,373.7L214.0,376.0L214.5,377.8L215.0,379.8L215.6,381.0L216.1,382.0L216.6,383.6L217.1,384.3L217.7,385.1L218.2,386.5L218.7,386.6L219.2,388.3L219.8,387.7L220.3,387.3L220.8,388.1L221.3,388.1L221.9,387.7L222.4,388.6L222.9,387.9L223.4,386.9L224.0,388.7L224.5,388.1L225.0,389.0L225.6,388.1L226.1,387.8L226.6,389.1L227.1,387.9L227.7,388.5L228.2,389.0L228.7,388.4L229.2,388.3L229.8,388.4L230.3,388.7L230.8,388.0L231.3,388.6L231.9,388.6L232.4,389.4L232.9,388.2L233.4,388.0L234.0,388.7L234.5,388.2L235.0,388.5L235.6,388.4L236.1,388.9L236.6,388.1L237.1,388.3L237.7,387.2L238.2,388.0L238.7,389.1L239.2,388.1L239.8,388.0L240.3,387.8L240.8,388.6L241.3,388.4L241.9,387.8L242.4,388.6L242.9,388.4L243.4,388.6L244.0,388.0L244.5,389.1L245.0,388.4L245.5,388.2L246.1,388.0L246.6,388.1L247.1,388.6L247.7,388.0L248.2,388.6L248.7,388.3L249.2,388.7L249.8,388.4L250.3,388.0L250.8,387.1L251.3,388.1L251.9,388.3L252.4,388.1L252.9,388.2L253.4,387.8L254.0,387.9L254.5,387.6L255.0,388.7L255.5,388.2L256.1,387.9L256.6,387.6" fill="none" stroke="#0000ff" stroke-width="1.6" stroke-linejoin="round"/><path d="M46.1,386.3L46.6,386.6L47.2,387.4L47.7,387.0L48.2,385.9L48.7,386.7L49.3,386.4L49.8,386.7L50.3,386.0L50.8,386.8L51.4,386.8L51.9,387.4L52.4,386.8L52.9,386.9L53.5,386.0L54.0,387.7L54.5,385.9L55.0,387.2L55.6,386.6L56.1,386.3L56.6,386.4L57.2,386.4L57.7,386.9L58.2,386.7L58.7,387.4L59.3,385.9L59.8,386.8L60.3,386.4L60.8,387.1L61.4,385.8L61.9,386.6L62.4,386.9L62.9,386.1L63.5,387.2L64.0,386.8L64.5,387.2L65.0,387.2L65.6,386.3L66.1,386.4L66.6,386.7L67.2,387.1L67.7,387.1L68.2,386.4L68.7,386.5L69.3,386.4L69.8,386.5L70.3,386.7L70.8,386.7L71.4,387.7L71.9,386.5L72.4,386.6L72.9,387.0L73.5,386.3L74.0,386.6L74.5,386.7L75.0,386.9L75.6,385.8L76.1,386.7L76.6,385.0L77.1,383.6L77.7,382.5L78.2,381.1L78.7,381.1L79.3,382.2L79.8,383.5L80.3,385.0L80.8,385.4L81.4,386.4L81.9,384.8L82.4,383.7L82.9,384.1L83.5,381.9L84.0,380.1L84.5,379.8L85.0,377.0L85.6,375.5L86.1,372.0L86.6,369.6L87.1,366.7L87.7,365.1L88.2,364.2L88.7,363.7L89.3,363.6L89.8,364.0L90.3,362.2L90.8,363.3L91.4,362.8L91.9,363.4L92.4,363.3L92.9,364.0L93.5,365.0L94.0,365.7L94.5,367.1L95.0,367.8L95.6,369.4L96.1,369.6L96.6,370.1L97.1,371.1L97.7,371.3L98.2,371.5L98.7,371.9L99.3,372.8L99.8,374.8L100.3,376.2L100.8,377.5L101.4,379.0L101.9,379.8L102.4,381.5L102.9,381.5L103.5,383.4L104.0,383.4L104.5,383.9L105.0,384.3L105.6,384.1L106.1,383.8L106.6,384.0L107.1,383.1L107.7,382.2L108.2,382.0L108.7,379.6L109.2,377.5L109.8,371.9L110.3,366.6L110.8,360.6L111.4,352.7L111.9,343.5L112.4,334.7L112.9,325.8L113.5,317.5L114.0,309.9L114.5,304.4L115.0,300.1L115.6,295.1L116.1,291.2L116.6,288.6L117.1,286.5L117.7,285.7L118.2,284.5L118.7,285.7L119.2,286.6L119.8,285.6L120.3,287.2L120.8,288.2L121.4,289.2L121.9,291.8L122.4,295.8L122.9,299.8L123.5,304.3L124.0,309.4L124.5,317.3L125.0,327.8L125.6,335.2L126.1,343.1L126.6,348.7L127.1,354.5L127.7,359.8L128.2,364.2L128.7,368.2L129.2,371.7L129.8,374.3L130.3,376.8L130.8,378.9L131.4,380.8L131.9,381.5L132.4,383.4L132.9,383.5L133.5,382.7L134.0,384.5L134.5,386.0L135.0,385.7L135.6,385.8L136.1,385.8L136.6,387.1L137.1,387.1L137.7,387.1L138.2,387.2L138.7,387.8L139.2,387.6L139.8,386.8L140.3,387.9L140.8,387.7L141.4,387.7L141.9,388.2L142.4,388.0L142.9,386.7L143.5,388.7L144.0,388.5L144.5,388.0L145.0,388.0L145.6,388.2L146.1,387.6L146.6,388.3L147.1,388.0L147.7,387.9L148.2,387.7L148.7,387.7L149.2,388.5L149.8,388.5L150.3,388.1L150.8,387.8L151.4,387.3L151.9,387.9L152.4,388.0L152.9,386.1L153.5,386.9L154.0,385.0L154.5,385.5L155.0,385.6L155.6,384.5L156.1,384.2L156.6,384.8L157.1,385.0L157.7,384.5L158.2,385.5L158.7,384.9L159.2,386.3L159.8,385.9L160.3,386.3L160.8,386.8L161.3,387.1L161.9,388.1L162.4,388.6L162.9,388.0L163.5,387.8L164.0,387.4L164.5,387.7L165.0,388.1L165.6,388.1L166.1,388.1L166.6,388.2L167.1,388.4L167.7,387.6L168.2,387.7L168.7,388.7L169.2,388.6L169.8,388.0L170.3,388.8L170.8,387.9L171.3,388.1L171.9,387.4L172.4,388.6L172.9,388.3L173.5,388.7L174.0,388.6L174.5,388.3L175.0,388.4L175.6,388.8L176.1,388.2L176.6,388.2L177.1,388.3L177.7,388.7L178.2,388.7L178.7,389.2L179.2,388.3L179.8,388.9L180.3,388.0L180.8,388.6L181.3,388.3L181.9,389.1L182.4,388.5L182.9,388.1L183.5,388.5L184.0,388.4L184.5,388.1L185.0,388.1L185.6,387.7L186.1,389.3L186.6,388.0L187.1,388.2L187.7,387.0L188.2,386.7L188.7,386.7L189.2,386.2L189.8,386.1L190.3,384.7L190.8,384.7L191.3,384.3L191.9,382.3L192.4,382.1L192.9,380.3L193.5,379.9L194.0,378.8L194.5,378.3L195.0,376.1L195.6,375.4L196.1,374.7L196.6,372.7L197.1,372.2L197.7,370.6L198.2,369.3L198.7,368.3L199.2,366.6L199.8,365.8L200.3,363.6L200.8,361.9L201.3,359.6L201.9,357.8L202.4,356.0L202.9,352.9L203.4,353.0L204.0,350.6L204.5,349.0L205.0,348.2L205.6,348.2L206.1,348.4L206.6,348.1L207.1,349.1L207.7,349.5L208.2,349.8L208.7,351.3L209.2,352.3L209.8,352.8L210.3,355.3L210.8,355.9L211.3,358.8L211.9,360.6L212.4,363.1L212.9,365.6L213.4,368.7L214.0,370.5L214.5,373.8L215.0,377.3L215.6,378.5L216.1,380.4L216.6,382.2L217.1,383.0L217.7,384.6L218.2,385.0L218.7,386.2L219.2,386.4L219.8,386.4L220.3,387.8L220.8,387.4L221.3,387.6L221.9,387.4L222.4,387.7L222.9,388.0L223.4,388.2L224.0,388.7L224.5,387.7L225.0,388.1L225.6,388.8L226.1,388.4L226.6,388.5L227.1,389.0L227.7,388.4L228.2,388.5L228.7,388.3L229.2,389.1L229.8,388.8L230.3,388.0L230.8,388.5L231.3,387.8L231.9,388.8L232.4,388.6L232.9,388.2L233.4,388.1L234.0,387.5L234.5,388.6L235.0,388.3L235.6,388.2L236.1,388.6L236.6,388.0L237.1,388.0L237.7,388.0L238.2,387.7L238.7,389.4L239.2,388.2L239.8,388.1L240.3,388.7L240.8,386.8L241.3,388.2L241.9,388.2L242.4,387.7L242.9,388.4L243.4,387.2L244.0,388.1L244.5,388.5L245.0,387.1L245.5,387.4L246.1,388.0L246.6,388.0L247.1,387.6L247.7,388.0L248.2,387.9L248.7,387.1L249.2,387.6L249.8,387.0L250.3,386.6L250.8,386.4L251.3,388.0L251.9,387.5L252.4,388.4L252.9,386.9L253.4,387.4L254.0,387.7L254.5,387.6L255.0,387.9L255.5,387.8L256.1,387.5L256.6,386.8" fill="none" stroke="#ff00ff" stroke-width="1.6" stroke-linejoin="round"/><path d="M46.1,387.4L46.6,387.1L47.2,387.6L47.7,387.9L48.2,388.2L48.7,387.8L49.3,387.5L49.8,387.4L50.3,388.1L50.8,388.5L51.4,387.8L51.9,387.2L52.4,387.3L52.9,388.4L53.5,387.8L54.0,386.9L54.5,387.7L55.0,387.2L55.6,387.4L56.1,387.5L56.6,387.4L57.2,388.0L57.7,387.7L58.2,387.5L58.7,387.9L59.3,388.1L59.8,387.0L60.3,387.6L60.8,387.3L61.4,387.6L61.9,387.1L62.4,387.7L62.9,387.7L63.5,387.5L64.0,387.2L64.5,387.5L65.0,387.2L65.6,387.1L66.1,387.8L66.6,387.2L67.2,388.2L67.7,388.0L68.2,386.7L68.7,387.8L69.3,387.1L69.8,387.6L70.3,387.6L70.8,386.7L71.4,387.5L71.9,387.5L72.4,388.0L72.9,387.1L73.5,387.9L74.0,387.0L74.5,387.3L75.0,386.9L75.6,387.7L76.1,387.0L76.6,386.7L77.1,384.1L77.7,382.6L78.2,381.1L78.7,380.3L79.3,382.2L79.8,384.3L80.3,385.0L80.8,386.3L81.4,386.2L81.9,385.8L82.4,384.2L82.9,383.2L83.5,382.1L84.0,380.4L84.5,378.2L85.0,377.1L85.6,373.8L86.1,371.0L86.6,368.0L87.1,366.7L87.7,364.5L88.2,362.8L88.7,361.8L89.3,362.0L89.8,361.0L90.3,360.7L90.8,361.7L91.4,361.1L91.9,361.8L92.4,362.5L92.9,362.9L93.5,363.9L94.0,365.3L94.5,365.5L95.0,366.1L95.6,366.6L96.1,368.0L96.6,368.5L97.1,369.3L97.7,369.5L98.2,369.9L98.7,370.2L99.3,371.3L99.8,373.1L100.3,374.6L100.8,376.3L101.4,378.6L101.9,379.4L102.4,379.8L102.9,382.2L103.5,382.3L104.0,382.3L104.5,383.6L105.0,383.5L105.6,383.3L106.1,383.0L106.6,382.4L107.1,382.4L107.7,382.3L108.2,380.9L108.7,379.6L109.2,376.2L109.8,369.5L110.3,364.2L110.8,356.2L111.4,347.1L111.9,337.9L112.4,328.3L112.9,318.3L113.5,308.2L114.0,300.8L114.5,294.7L115.0,289.0L115.6,283.9L116.1,279.0L116.6,275.9L117.1,274.9L117.7,273.1L118.2,272.3L118.7,272.6L119.2,271.8L119.8,272.1L120.3,273.0L120.8,274.1L121.4,276.0L121.9,278.1L122.4,281.9L122.9,288.2L123.5,292.5L124.0,297.2L124.5,306.9L125.0,318.1L125.6,326.5L126.1,335.4L126.6,342.5L127.1,349.7L127.7,354.4L128.2,359.9L128.7,364.6L129.2,368.4L129.8,371.6L130.3,375.0L130.8,377.5L131.4,379.0L131.9,379.6L132.4,380.7L132.9,382.2L133.5,382.6L134.0,383.4L134.5,383.5L135.0,385.7L135.6,385.6L136.1,385.0L136.6,386.1L137.1,386.5L137.7,385.1L138.2,386.1L138.7,386.3L139.2,386.9L139.8,386.7L140.3,386.8L140.8,387.1L141.4,388.1L141.9,388.3L142.4,387.2L142.9,387.1L143.5,388.7L144.0,387.1L144.5,387.3L145.0,387.6L145.6,387.9L146.1,388.1L146.6,387.8L147.1,387.2L147.7,387.8L148.2,387.7L148.7,388.3L149.2,387.4L149.8,386.8L150.3,386.8L150.8,387.9L151.4,386.9L151.9,385.9L152.4,386.2L152.9,386.0L153.5,386.0L154.0,384.5L154.5,384.9L155.0,384.6L155.6,383.5L156.1,383.5L156.6,384.1L157.1,384.0L157.7,383.7L158.2,383.8L158.7,384.5L159.2,384.3L159.8,384.7L160.3,384.8L160.8,385.6L161.3,386.1L161.9,387.8L162.4,386.8L162.9,387.7L163.5,387.8L164.0,387.2L164.5,387.9L165.0,386.5L165.6,387.6L166.1,388.0L166.6,386.6L167.1,387.1L167.7,388.1L168.2,387.5L168.7,387.2L169.2,387.5L169.8,387.4L170.3,388.0L170.8,387.9L171.3,387.6L171.9,387.4L172.4,387.7L172.9,388.3L173.5,387.9L174.0,388.0L174.5,387.7L175.0,387.1L175.6,387.4L176.1,388.0L176.6,387.8L177.1,387.3L177.7,387.0L178.2,387.8L178.7,387.6L179.2,387.6L179.8,387.6L180.3,387.8L180.8,387.8L181.3,388.1L181.9,388.1L182.4,388.3L182.9,388.0L183.5,387.5L184.0,387.6L184.5,387.8L185.0,387.4L185.6,387.8L186.1,387.9L186.6,386.9L187.1,386.3L187.7,387.4L188.2,386.5L188.7,386.3L189.2,384.8L189.8,385.6L190.3,384.5L190.8,383.3L191.3,382.2L191.9,381.4L192.4,380.2L192.9,379.0L193.5,377.6L194.0,377.5L194.5,375.6L195.0,374.4L195.6,373.2L196.1,371.0L196.6,371.2L197.1,369.7L197.7,368.4L198.2,367.0L198.7,364.8L199.2,363.8L199.8,361.3L200.3,359.4L200.8,357.7L201.3,356.4L201.9,354.8L202.4,352.1L202.9,349.5L203.4,348.9L204.0,346.4L204.5,346.0L205.0,344.3L205.6,343.5L206.1,343.6L206.6,344.6L207.1,345.4L207.7,345.6L208.2,346.9L208.7,348.4L209.2,348.5L209.8,349.4L210.3,350.9L210.8,352.7L211.3,355.3L211.9,357.7L212.4,360.1L212.9,363.6L213.4,364.8L214.0,368.4L214.5,372.9L215.0,375.4L215.6,377.5L216.1,379.3L216.6,381.5L217.1,382.3L217.7,383.4L218.2,383.8L218.7,385.0L219.2,385.2L219.8,385.7L220.3,386.1L220.8,386.7L221.3,386.8L221.9,387.5L222.4,386.6L222.9,387.3L223.4,388.3L224.0,387.5L224.5,388.1L225.0,388.1L225.6,388.2L226.1,387.9L226.6,386.9L227.1,387.4L227.7,387.4L228.2,386.9L228.7,387.4L229.2,387.0L229.8,386.8L230.3,387.7L230.8,387.6L231.3,387.3L231.9,387.1L232.4,387.3L232.9,387.4L233.4,387.4L234.0,387.5L234.5,387.4L235.0,387.7L235.6,387.8L236.1,387.7L236.6,387.3L237.1,387.3L237.7,387.8L238.2,387.5L238.7,387.5L239.2,386.4L239.8,386.3L240.3,387.6L240.8,387.6L241.3,388.1L241.9,387.8L242.4,387.5L242.9,387.4L243.4,386.7L244.0,387.8L244.5,387.1L245.0,387.5L245.5,387.4L246.1,387.4L246.6,387.6L247.1,387.0L247.7,386.9L248.2,386.6L248.7,386.8L249.2,387.6L249.8,386.7L250.3,387.3L250.8,387.1L251.3,387.0L251.9,387.1L252.4,386.3L252.9,386.9L253.4,387.5L254.0,386.5L254.5,386.8L255.0,386.6L255.5,387.1L256.1,386.5L256.6,387.8" fill="none" stroke="#008000" stroke-width="1.6" stroke-linejoin="round"/><path d="M326.2,304.3L326.7,306.8L327.2,309.0L327.7,311.7L328.2,313.5L328.7,315.7L329.2,317.8L329.7,319.4L330.2,320.8L330.7,321.9L331.2,323.2L331.7,324.6L332.2,326.1L332.7,327.5L333.2,328.4L333.7,329.5L334.2,331.3L334.7,331.4L335.2,333.3L335.7,334.6L336.2,335.0L336.7,335.9L337.2,337.0L337.7,338.5L338.2,339.0L338.7,339.1L339.2,340.5L339.7,342.0L340.2,342.7L340.7,343.3L341.2,343.7L341.7,343.7L342.2,345.4L342.7,346.0L343.2,346.8L343.7,348.2L344.2,348.3L344.7,349.1L345.2,349.9L345.7,350.2L346.2,350.7L346.7,351.2L347.2,352.5L347.7,352.9L348.2,353.0L348.7,354.2L349.2,354.3L349.7,354.1L350.2,355.4L350.7,355.5L351.2,355.4L351.7,356.7L352.2,356.7L352.7,357.1L353.2,357.9L353.7,357.0L354.2,357.7L354.7,358.4L355.2,359.1L355.7,359.0L356.2,359.1L356.7,359.4L357.2,360.2L357.7,360.9L358.2,360.3L358.7,360.3L359.2,361.6L359.7,362.0L360.2,362.3L360.7,363.5L361.2,364.2L361.7,364.1L362.2,364.7L362.7,365.6L363.2,365.6L363.7,365.6L364.2,366.5L364.7,366.3L365.2,367.0L365.7,366.6L366.2,366.6L366.7,366.8L367.2,366.4L367.7,365.9L368.2,365.5L368.7,366.5L369.2,366.1L369.7,364.6L370.2,364.6L370.7,365.0L371.2,364.1L371.7,364.1L372.2,364.1L372.7,363.6L373.2,363.4L373.7,363.3L374.2,363.6L374.7,364.0L375.2,364.9L375.7,364.8L376.2,364.5L376.7,365.4L377.2,365.4L377.7,365.1L378.2,366.2L378.8,367.2L379.3,367.0L379.8,368.2L380.3,368.3L380.8,369.1L381.3,369.3L381.8,371.4L382.3,371.4L382.8,372.4L383.3,372.6L383.8,373.0L384.3,375.0L384.8,374.8L385.3,376.3L385.8,375.8L386.3,376.8L386.8,375.9L387.3,375.6L387.8,376.8L388.3,376.6L388.8,376.7L389.3,377.3L389.8,376.5L390.3,376.4L390.8,376.6L391.3,376.4L391.8,376.4L392.3,376.7L392.8,376.9L393.3,377.2L393.8,377.0L394.3,377.5L394.8,378.0L395.3,377.7L395.8,378.0L396.3,377.5L396.8,378.1L397.3,378.3L397.8,377.9L398.3,377.5L398.8,378.2L399.3,378.4L399.8,379.1L400.3,378.3L400.8,379.3L401.3,377.6L401.8,378.6L402.3,378.6L402.8,378.7L403.3,378.7L403.8,379.0L404.3,379.8L404.8,379.0L405.3,379.7L405.8,379.1L406.3,379.3L406.8,378.2L407.3,379.4L407.8,379.6L408.3,378.9L408.8,379.2L409.3,379.1L409.8,380.5L410.3,379.1L410.8,379.3L411.3,378.4L411.8,378.9L412.3,379.7L412.8,379.0L413.3,378.4L413.8,379.4L414.3,379.5L414.8,379.6L415.3,379.6L415.8,379.1L416.3,380.5L416.8,379.0L417.3,379.4L417.8,378.6L418.3,378.8L418.8,378.4L419.3,379.2L419.8,379.0L420.3,378.8L420.8,378.5L421.3,379.8L421.8,380.2L422.3,380.4L422.8,380.3L423.3,380.9L423.8,381.2L424.3,381.3L424.8,381.9L425.3,381.4L425.8,381.7L426.3,381.1L426.8,382.8L427.3,381.6L427.8,382.2L428.3,382.5L428.8,381.9L429.3,382.4L429.8,382.8L430.3,382.6L430.8,382.6L431.3,382.6L431.8,382.6L432.3,382.9L432.8,383.2L433.3,383.3L433.8,383.7L434.3,383.3L434.8,383.1L435.3,383.7L435.8,383.6L436.3,383.9L436.8,383.6L437.3,383.7L437.8,383.7L438.3,383.8L438.8,383.1L439.3,383.5L439.8,383.6L440.3,384.3L440.8,383.5L441.3,383.7L441.8,383.4L442.3,382.6L442.8,384.1L443.3,383.8L443.8,384.1L444.3,382.9L444.8,383.6L445.3,383.6L445.8,382.8L446.3,383.7L446.8,383.3L447.3,383.7L447.8,382.8L448.3,383.1L448.8,383.1L449.3,382.6L449.8,383.3L450.3,383.7L450.8,383.0L451.3,383.2L451.8,383.5L452.3,383.0L452.8,382.5L453.3,381.7L453.8,382.6L454.3,382.2L454.8,382.1L455.3,382.6L455.8,382.5L456.3,381.5L456.8,382.4L457.3,382.2L457.8,382.9L458.3,382.6L458.8,383.2L459.3,382.7L459.8,383.0L460.3,383.1L460.8,383.5L461.3,383.6L461.8,384.4L462.3,383.5L462.8,384.1L463.3,383.6L463.8,383.5L464.3,384.0L464.8,383.6L465.3,384.4L465.8,384.1L466.3,384.2L466.8,384.7L467.3,385.2L467.8,384.3L468.3,383.7L468.8,384.5L469.3,384.7L469.8,385.2L470.3,384.7L470.8,384.4L471.3,385.2L471.8,385.3L472.3,384.7L472.8,384.9L473.3,385.0L473.8,386.0L474.3,384.6L474.8,384.6L475.3,384.8L475.8,385.1L476.3,384.7L476.8,385.1L477.3,385.2L477.8,385.7L478.3,384.8L478.8,384.7L479.3,384.7L479.8,384.0L480.3,384.3L480.8,384.9L481.3,384.9L481.8,386.0L482.3,385.4L482.8,385.2L483.3,385.5L483.8,384.5L484.4,384.6L484.9,384.5L485.4,384.8L485.9,385.8L486.4,384.7L486.9,384.5L487.4,384.9L487.9,385.2L488.4,385.1L488.9,385.2L489.4,384.3L489.9,384.5L490.4,384.7L490.9,384.9L491.4,385.4L491.9,384.3L492.4,385.1L492.9,384.7L493.4,385.1L493.9,384.5L494.4,384.2L494.9,385.4L495.4,385.0L495.9,384.0L496.4,385.1L496.9,384.4L497.4,384.8L497.9,384.8L498.4,384.2L498.9,385.3L499.4,384.5L499.9,385.5L500.4,385.0L500.9,385.0L501.4,384.8L501.9,385.6L502.4,384.2L502.9,384.3L503.4,384.3L503.9,385.1L504.4,385.1L504.9,384.6L505.4,384.7L505.9,383.8L506.4,385.2L506.9,384.4L507.4,384.6L507.9,384.3L508.4,384.8L508.9,384.4L509.4,384.5L509.9,384.5L510.4,384.2L510.9,384.1L511.4,384.6L511.9,384.5L512.4,384.7L512.9,385.0L513.4,383.8L513.9,383.5L514.4,384.2L514.9,384.9L515.4,384.3L515.9,383.5L516.4,385.0L516.9,384.6L517.4,383.7L517.9,384.0L518.4,384.4L518.9,384.1L519.4,384.3L519.9,384.6L520.4,384.3L520.9,385.0L521.4,384.2L521.9,385.0L522.4,384.1L522.9,383.8L523.4,383.4L523.9,383.9L524.4,384.4L524.9,384.8L525.4,382.8L525.9,384.3L526.4,383.9L526.9,384.7L527.4,384.1L527.9,384.5L528.4,385.1L528.9,384.4L529.4,384.3L529.9,384.8L530.4,384.5L530.9,384.2L531.4,383.6L531.9,384.2L532.4,383.6L532.9,384.4L533.4,384.6L533.9,384.4L534.4,385.2L534.9,383.8L535.4,384.5L535.9,384.3L536.4,383.8" fill="none" stroke="#000000" stroke-width="1.6" stroke-linejoin="round"/><path d="M326.2,317.1L326.7,319.7L327.2,321.5L327.7,322.5L328.2,324.4L328.7,326.0L329.2,328.0L329.7,329.2L330.2,331.0L330.7,331.2L331.2,334.1L331.7,334.7L332.2,336.4L332.7,337.3L333.2,338.3L333.7,339.9L334.2,341.1L334.7,341.7L335.2,342.6L335.7,343.9L336.2,344.0L336.7,344.4L337.2,345.9L337.7,346.1L338.2,346.1L338.7,347.2L339.2,347.9L339.7,348.1L340.2,348.5L340.7,349.6L341.2,350.5L341.7,350.5L342.2,350.8L342.7,351.8L343.2,352.4L343.7,352.3L344.2,353.2L344.7,353.8L345.2,353.7L345.7,353.8L346.2,354.8L346.7,355.2L347.2,356.0L347.7,355.4L348.2,356.1L348.7,356.5L349.2,356.6L349.7,358.0L350.2,358.6L350.7,358.5L351.2,359.9L351.7,360.1L352.2,360.5L352.7,360.8L353.2,361.4L353.7,360.7L354.2,361.9L354.7,362.3L355.2,361.5L355.7,362.8L356.2,362.9L356.7,363.7L357.2,363.4L357.7,363.9L358.2,364.4L358.7,364.2L359.2,365.3L359.7,365.4L360.2,366.1L360.7,366.1L361.2,367.2L361.7,367.5L362.2,367.5L362.7,368.3L363.2,368.9L363.7,369.5L364.2,368.2L364.7,369.5L365.2,369.3L365.7,369.1L366.2,368.6L366.7,369.5L367.2,368.1L367.7,368.7L368.2,368.7L368.7,366.6L369.2,365.7L369.7,363.4L370.2,362.2L370.7,361.3L371.2,360.6L371.7,357.9L372.2,357.5L372.7,357.5L373.2,357.5L373.7,357.0L374.2,356.7L374.7,357.4L375.2,357.6L375.7,357.8L376.2,358.0L376.7,359.1L377.2,359.7L377.7,360.3L378.2,361.1L378.8,361.4L379.3,362.7L379.8,364.6L380.3,365.3L380.8,366.0L381.3,368.5L381.8,369.3L382.3,371.1L382.8,371.2L383.3,371.9L383.8,372.5L384.3,374.6L384.8,376.0L385.3,375.1L385.8,375.6L386.3,376.5L386.8,376.2L387.3,376.8L387.8,377.0L388.3,377.6L388.8,378.2L389.3,378.0L389.8,378.6L390.3,378.2L390.8,378.7L391.3,377.8L391.8,378.3L392.3,379.4L392.8,379.0L393.3,379.6L393.8,379.8L394.3,380.2L394.8,380.1L395.3,380.3L395.8,380.0L396.3,379.8L396.8,379.9L397.3,380.2L397.8,380.0L398.3,380.4L398.8,380.7L399.3,380.9L399.8,380.8L400.3,380.2L400.8,381.1L401.3,381.3L401.8,381.8L402.3,381.6L402.8,381.1L403.3,381.1L403.8,382.4L404.3,381.8L404.8,382.3L405.3,382.5L405.8,381.1L406.3,381.7L406.8,381.7L407.3,381.7L407.8,381.7L408.3,381.5L408.8,381.5L409.3,380.7L409.8,381.3L410.3,381.0L410.8,381.4L411.3,381.1L411.8,381.6L412.3,381.6L412.8,381.3L413.3,381.3L413.8,381.1L414.3,380.7L414.8,380.7L415.3,380.3L415.8,380.6L416.3,380.3L416.8,380.4L417.3,379.4L417.8,380.2L418.3,379.4L418.8,379.4L419.3,379.6L419.8,379.5L420.3,380.0L420.8,379.8L421.3,379.7L421.8,380.0L422.3,381.2L422.8,380.9L423.3,380.6L423.8,381.4L424.3,380.9L424.8,382.7L425.3,381.4L425.8,382.4L426.3,382.6L426.8,381.8L427.3,382.7L427.8,383.1L428.3,383.0L428.8,383.0L429.3,383.4L429.8,383.2L430.3,383.3L430.8,383.2L431.3,383.6L431.8,383.0L432.3,383.9L432.8,383.4L433.3,383.2L433.8,383.9L434.3,384.6L434.8,384.3L435.3,383.7L435.8,384.3L436.3,383.8L436.8,384.0L437.3,384.1L437.8,383.0L438.3,384.2L438.8,383.6L439.3,383.8L439.8,383.4L440.3,383.4L440.8,383.6L441.3,384.4L441.8,384.7L442.3,383.9L442.8,384.4L443.3,383.7L443.8,383.0L444.3,383.9L444.8,383.9L445.3,383.5L445.8,383.8L446.3,383.9L446.8,383.2L447.3,382.9L447.8,383.4L448.3,383.3L448.8,383.2L449.3,383.7L449.8,383.9L450.3,382.9L450.8,383.3L451.3,383.3L451.8,383.1L452.3,383.2L452.8,382.4L453.3,382.8L453.8,383.4L454.3,382.7L454.8,382.1L455.3,382.6L455.8,382.8L456.3,382.4L456.8,382.1L457.3,383.1L457.8,382.0L458.3,383.0L458.8,382.9L459.3,382.6L459.8,383.9L460.3,383.7L460.8,383.2L461.3,384.2L461.8,383.9L462.3,383.4L462.8,384.0L463.3,384.5L463.8,384.8L464.3,384.6L464.8,384.7L465.3,384.9L465.8,384.7L466.3,385.4L466.8,385.0L467.3,385.1L467.8,385.3L468.3,384.6L468.8,384.8L469.3,385.9L469.8,385.4L470.3,385.1L470.8,385.4L471.3,385.1L471.8,385.5L472.3,385.1L472.8,385.5L473.3,384.7L473.8,386.0L474.3,385.1L474.8,384.7L475.3,385.3L475.8,385.2L476.3,385.4L476.8,384.8L477.3,385.5L477.8,387.0L478.3,384.8L478.8,385.5L479.3,385.2L479.8,385.5L480.3,384.5L480.8,384.8L481.3,385.6L481.8,385.3L482.3,386.1L482.8,385.0L483.3,385.4L483.8,386.7L484.4,385.0L484.9,385.0L485.4,385.3L485.9,385.3L486.4,385.7L486.9,385.4L487.4,385.0L487.9,385.5L488.4,386.6L488.9,385.9L489.4,384.1L489.9,385.3L490.4,385.0L490.9,385.6L491.4,385.3L491.9,386.2L492.4,385.8L492.9,385.8L493.4,385.4L493.9,385.3L494.4,385.5L494.9,385.9L495.4,385.6L495.9,385.2L496.4,385.9L496.9,385.5L497.4,385.3L497.9,385.0L498.4,385.1L498.9,385.1L499.4,384.1L499.9,385.8L500.4,385.6L500.9,385.3L501.4,385.8L501.9,385.6L502.4,385.5L502.9,384.3L503.4,385.3L503.9,385.6L504.4,386.1L504.9,386.2L505.4,386.0L505.9,384.8L506.4,384.4L506.9,385.6L507.4,385.4L507.9,385.8L508.4,385.3L508.9,385.5L509.4,384.7L509.9,385.6L510.4,385.2L510.9,385.5L511.4,385.6L511.9,385.3L512.4,385.5L512.9,385.4L513.4,385.7L513.9,385.6L514.4,385.1L514.9,385.1L515.4,386.1L515.9,385.3L516.4,385.8L516.9,385.5L517.4,385.1L517.9,385.0L518.4,385.4L518.9,385.5L519.4,385.6L519.9,384.8L520.4,385.1L520.9,385.3L521.4,386.1L521.9,384.3L522.4,385.6L522.9,385.1L523.4,385.6L523.9,385.1L524.4,385.5L524.9,386.1L525.4,385.5L525.9,385.6L526.4,385.5L526.9,385.0L527.4,385.6L527.9,385.3L528.4,385.0L528.9,385.3L529.4,385.3L529.9,385.7L530.4,385.3L530.9,385.1L531.4,386.0L531.9,385.8L532.4,385.9L532.9,385.6L533.4,385.3L533.9,385.2L534.4,385.2L534.9,385.8L535.4,385.4L535.9,384.7L536.4,385.3" fill="none" stroke="#ff0000" stroke-width="1.6" stroke-linejoin="round"/><path d="M326.2,346.5L326.7,347.8L327.2,348.6L327.7,349.4L328.2,350.6L328.7,350.0L329.2,350.9L329.7,351.2L330.2,352.2L330.7,353.2L331.2,353.2L331.7,353.9L332.2,353.2L332.7,354.6L333.2,354.5L333.7,356.0L334.2,356.0L334.7,356.4L335.2,356.2L335.7,356.8L336.2,357.2L336.7,357.0L337.2,357.2L337.7,357.6L338.2,357.6L338.7,357.9L339.2,358.2L339.7,358.3L340.2,359.2L340.7,358.3L341.2,359.6L341.7,359.2L342.2,359.5L342.7,359.4L343.2,360.2L343.7,360.4L344.2,360.8L344.7,360.7L345.2,361.3L345.7,362.3L346.2,361.9L346.7,361.7L347.2,362.6L347.7,362.4L348.2,362.9L348.7,363.2L349.2,362.9L349.7,362.5L350.2,363.4L350.7,364.0L351.2,363.8L351.7,364.4L352.2,364.8L352.7,364.4L353.2,365.4L353.7,365.7L354.2,365.7L354.7,365.9L355.2,366.0L355.7,366.7L356.2,366.0L356.7,366.1L357.2,366.6L357.7,366.1L358.2,366.0L358.7,366.5L359.2,367.3L359.7,367.6L360.2,367.0L360.7,367.2L361.2,368.2L361.7,368.6L362.2,369.0L362.7,369.6L363.2,370.1L363.7,369.9L364.2,370.3L364.7,369.6L365.2,369.6L365.7,370.2L366.2,370.0L366.7,369.4L367.2,368.5L367.7,367.4L368.2,366.2L368.7,362.0L369.2,357.2L369.7,351.4L370.2,345.5L370.7,340.3L371.2,338.3L371.7,334.7L372.2,332.6L372.7,331.3L373.2,330.1L373.7,327.9L374.2,328.2L374.7,327.5L375.2,327.3L375.7,328.0L376.2,327.9L376.7,329.4L377.2,331.1L377.7,332.5L378.2,334.6L378.8,336.6L379.3,338.9L379.8,341.8L380.3,344.2L380.8,347.5L381.3,351.3L381.8,355.3L382.3,357.3L382.8,360.8L383.3,362.6L383.8,365.9L384.3,367.4L384.8,369.1L385.3,369.4L385.8,369.7L386.3,371.2L386.8,371.7L387.3,371.4L387.8,371.6L388.3,372.8L388.8,372.9L389.3,374.4L389.8,373.3L390.3,373.6L390.8,374.1L391.3,373.6L391.8,374.2L392.3,375.6L392.8,375.0L393.3,375.0L393.8,374.8L394.3,375.8L394.8,375.9L395.3,375.8L395.8,375.7L396.3,376.1L396.8,376.2L397.3,375.8L397.8,376.5L398.3,375.3L398.8,375.8L399.3,376.3L399.8,376.4L400.3,376.0L400.8,376.8L401.3,377.1L401.8,376.9L402.3,376.9L402.8,377.2L403.3,377.0L403.8,376.3L404.3,376.8L404.8,377.4L405.3,376.4L405.8,376.9L406.3,376.6L406.8,376.3L407.3,376.2L407.8,376.5L408.3,376.5L408.8,376.4L409.3,375.5L409.8,375.8L410.3,376.0L410.8,376.1L411.3,375.8L411.8,375.6L412.3,375.5L412.8,375.1L413.3,374.1L413.8,374.2L414.3,373.5L414.8,372.5L415.3,372.5L415.8,373.9L416.3,372.2L416.8,371.5L417.3,372.1L417.8,372.8L418.3,372.0L418.8,372.2L419.3,371.9L419.8,372.1L420.3,373.0L420.8,373.1L421.3,373.2L421.8,374.2L422.3,374.9L422.8,374.9L423.3,375.8L423.8,376.4L424.3,376.6L424.8,378.0L425.3,377.8L425.8,378.0L426.3,377.8L426.8,378.2L427.3,379.7L427.8,378.8L428.3,379.7L428.8,379.6L429.3,380.2L429.8,380.4L430.3,380.0L430.8,380.5L431.3,380.8L431.8,381.0L432.3,381.1L432.8,381.2L433.3,381.8L433.8,382.2L434.3,382.0L434.8,381.5L435.3,382.2L435.8,382.1L436.3,382.3L436.8,383.0L437.3,382.1L437.8,382.3L438.3,381.9L438.8,382.1L439.3,382.0L439.8,382.9L440.3,382.3L440.8,381.9L441.3,382.9L441.8,381.4L442.3,382.3L442.8,382.3L443.3,382.0L443.8,381.5L444.3,381.5L444.8,381.3L445.3,381.7L445.8,380.2L446.3,380.9L446.8,381.1L447.3,380.7L447.8,380.0L448.3,380.6L448.8,380.2L449.3,380.7L449.8,380.8L450.3,380.0L450.8,378.9L451.3,379.5L451.8,379.0L452.3,379.5L452.8,379.8L453.3,379.0L453.8,379.7L454.3,379.3L454.8,378.8L455.3,378.1L455.8,378.5L456.3,377.8L456.8,379.1L457.3,378.9L457.8,379.9L458.3,379.8L458.8,379.3L459.3,381.0L459.8,381.7L460.3,382.5L460.8,381.9L461.3,382.4L461.8,383.2L462.3,383.0L462.8,383.0L463.3,383.2L463.8,385.0L464.3,383.7L464.8,383.6L465.3,383.9L465.8,384.2L466.3,384.9L466.8,384.8L467.3,384.8L467.8,384.5L468.3,384.6L468.8,384.3L469.3,384.0L469.8,385.7L470.3,384.6L470.8,385.3L471.3,384.7L471.8,384.8L472.3,384.8L472.8,384.3L473.3,384.9L473.8,385.1L474.3,385.3L474.8,385.1L475.3,385.4L475.8,385.0L476.3,384.9L476.8,384.0L477.3,384.6L477.8,385.6L478.3,384.9L478.8,385.2L479.3,384.8L479.8,384.6L480.3,385.8L480.8,385.0L481.3,385.6L481.8,385.1L482.3,384.8L482.8,383.9L483.3,384.9L483.8,384.2L484.4,383.9L484.9,385.4L485.4,385.2L485.9,385.2L486.4,384.9L486.9,384.9L487.4,385.1L487.9,385.0L488.4,384.9L488.9,385.2L489.4,383.8L489.9,385.3L490.4,384.6L490.9,385.3L491.4,385.4L491.9,384.5L492.4,385.2L492.9,385.2L493.4,384.6L493.9,384.6L494.4,384.9L494.9,383.9L495.4,384.7L495.9,384.9L496.4,384.7L496.9,384.1L497.4,384.7L497.9,385.6L498.4,385.5L498.9,384.8L499.4,384.5L499.9,384.9L500.4,384.9L500.9,384.6L501.4,384.8L501.9,385.2L502.4,385.4L502.9,383.9L503.4,385.4L503.9,385.1L504.4,385.5L504.9,385.0L505.4,385.2L505.9,385.8L506.4,383.7L506.9,385.8L507.4,385.2L507.9,384.3L508.4,383.9L508.9,385.3L509.4,384.7L509.9,385.6L510.4,385.3L510.9,385.2L511.4,385.7L511.9,385.3L512.4,385.6L512.9,385.7L513.4,385.4L513.9,385.7L514.4,385.7L514.9,384.7L515.4,385.2L515.9,385.3L516.4,385.2L516.9,384.7L517.4,385.2L517.9,385.6L518.4,385.5L518.9,386.2L519.4,385.2L519.9,385.3L520.4,385.3L520.9,385.4L521.4,385.3L521.9,384.7L522.4,385.7L522.9,386.1L523.4,386.1L523.9,385.2L524.4,385.6L524.9,386.5L525.4,385.6L525.9,385.9L526.4,385.7L526.9,386.2L527.4,386.2L527.9,386.8L528.4,386.0L528.9,386.0L529.4,385.3L529.9,385.7L530.4,385.6L530.9,385.8L531.4,385.3L531.9,386.5L532.4,385.5L532.9,386.1L533.4,385.4L533.9,386.2L534.4,386.8L534.9,385.7L535.4,386.3L535.9,386.1L536.4,386.3" fill="none" stroke="#0000ff" stroke-width="1.6" stroke-linejoin="round"/><path d="M326.2,308.9L326.7,309.0L327.2,313.1L327.7,314.8L328.2,317.3L328.7,318.7L329.2,320.9L329.7,321.4L330.2,322.4L330.7,324.0L331.2,325.0L331.7,325.7L332.2,326.7L332.7,328.0L333.2,328.9L333.7,329.2L334.2,330.0L334.7,330.1L335.2,332.4L335.7,332.2L336.2,333.6L336.7,333.8L337.2,335.1L337.7,335.5L338.2,335.5L338.7,336.5L339.2,335.9L339.7,337.4L340.2,336.6L340.7,337.9L341.2,338.8L341.7,338.9L342.2,339.1L342.7,339.4L343.2,340.2L343.7,341.3L344.2,341.7L344.7,341.7L345.2,341.8L345.7,343.1L346.2,342.7L346.7,343.5L347.2,343.8L347.7,344.9L348.2,345.1L348.7,345.5L349.2,345.8L349.7,345.7L350.2,346.6L350.7,347.3L351.2,347.0L351.7,347.6L352.2,347.6L352.7,348.4L353.2,348.5L353.7,348.9L354.2,348.9L354.7,349.7L355.2,349.1L355.7,349.3L356.2,349.5L356.7,350.3L357.2,349.9L357.7,350.2L358.2,351.0L358.7,351.5L359.2,351.4L359.7,350.2L360.2,351.2L360.7,351.4L361.2,351.6L361.7,352.2L362.2,353.4L362.7,352.7L363.2,352.7L363.7,353.6L364.2,353.6L364.7,353.9L365.2,353.8L365.7,354.3L366.2,354.6L366.7,353.5L367.2,353.0L367.7,352.8L368.2,351.0L368.7,348.7L369.2,346.5L369.7,344.5L370.2,341.2L370.7,337.8L371.2,334.1L371.7,329.1L372.2,325.2L372.7,321.0L373.2,318.1L373.7,315.8L374.2,312.8L374.7,313.1L375.2,313.2L375.7,313.5L376.2,315.6L376.7,317.9L377.2,319.7L377.7,322.6L378.2,324.9L378.8,327.6L379.3,331.7L379.8,333.1L380.3,336.5L380.8,339.0L381.3,342.7L381.8,345.5L382.3,348.7L382.8,352.1L383.3,355.9L383.8,357.8L384.3,359.9L384.8,361.0L385.3,363.3L385.8,363.7L386.3,364.2L386.8,365.3L387.3,367.3L387.8,366.6L388.3,367.4L388.8,367.5L389.3,367.6L389.8,367.5L390.3,367.9L390.8,368.1L391.3,367.4L391.8,369.7L392.3,369.2L392.8,369.0L393.3,369.1L393.8,369.1L394.3,370.2L394.8,370.0L395.3,370.5L395.8,370.0L396.3,371.0L396.8,372.0L397.3,371.2L397.8,371.9L398.3,371.7L398.8,372.3L399.3,372.4L399.8,372.0L400.3,371.7L400.8,372.1L401.3,371.9L401.8,371.6L402.3,372.0L402.8,371.9L403.3,371.2L403.8,371.4L404.3,372.7L404.8,371.6L405.3,371.2L405.8,372.2L406.3,370.7L406.8,369.6L407.3,369.7L407.8,369.7L408.3,370.3L408.8,370.5L409.3,368.8L409.8,370.1L410.3,368.8L410.8,369.3L411.3,369.1L411.8,368.8L412.3,368.2L412.8,368.0L413.3,367.1L413.8,367.4L414.3,367.4L414.8,367.1L415.3,367.6L415.8,366.7L416.3,366.3L416.8,366.6L417.3,365.7L417.8,364.9L418.3,364.4L418.8,365.9L419.3,365.6L419.8,365.9L420.3,365.7L420.8,366.5L421.3,367.8L421.8,367.7L422.3,367.7L422.8,368.6L423.3,369.9L423.8,369.4L424.3,369.3L424.8,370.0L425.3,371.0L425.8,372.6L426.3,372.8L426.8,373.0L427.3,373.3L427.8,374.3L428.3,374.7L428.8,374.9L429.3,375.5L429.8,375.7L430.3,377.3L430.8,375.9L431.3,377.4L431.8,377.3L432.3,378.5L432.8,378.5L433.3,379.1L433.8,379.5L434.3,379.7L434.8,380.4L435.3,379.6L435.8,380.9L436.3,380.5L436.8,381.0L437.3,381.6L437.8,381.5L438.3,381.9L438.8,380.0L439.3,380.6L439.8,381.4L440.3,380.5L440.8,380.9L441.3,381.8L441.8,381.4L442.3,380.6L442.8,381.2L443.3,381.3L443.8,381.0L444.3,380.9L444.8,381.0L445.3,380.2L445.8,380.9L446.3,380.4L446.8,380.9L447.3,380.8L447.8,380.1L448.3,380.7L448.8,380.4L449.3,380.1L449.8,380.4L450.3,379.8L450.8,379.6L451.3,379.7L451.8,379.4L452.3,379.6L452.8,377.7L453.3,378.3L453.8,377.2L454.3,377.5L454.8,377.6L455.3,377.3L455.8,377.6L456.3,377.3L456.8,376.1L457.3,377.1L457.8,378.7L458.3,379.1L458.8,379.0L459.3,378.7L459.8,380.8L460.3,379.3L460.8,381.0L461.3,381.4L461.8,382.1L462.3,382.0L462.8,382.8L463.3,383.8L463.8,383.3L464.3,383.1L464.8,383.8L465.3,384.0L465.8,384.0L466.3,383.8L466.8,384.5L467.3,384.3L467.8,383.9L468.3,384.6L468.8,384.6L469.3,384.7L469.8,383.9L470.3,384.4L470.8,385.0L471.3,385.2L471.8,385.0L472.3,384.9L472.8,385.2L473.3,385.4L473.8,385.7L474.3,385.2L474.8,384.7L475.3,385.2L475.8,384.1L476.3,385.0L476.8,384.8L477.3,385.0L477.8,385.3L478.3,385.1L478.8,384.4L479.3,384.9L479.8,384.7L480.3,385.1L480.8,385.3L481.3,384.7L481.8,385.5L482.3,385.7L482.8,385.0L483.3,385.5L483.8,384.5L484.4,384.9L484.9,385.6L485.4,384.4L485.9,385.0L486.4,384.8L486.9,385.7L487.4,385.8L487.9,385.0L488.4,385.3L488.9,384.1L489.4,385.7L489.9,385.4L490.4,385.9L490.9,384.2L491.4,385.5L491.9,385.2L492.4,384.1L492.9,385.0L493.4,385.3L493.9,385.7L494.4,385.5L494.9,385.1L495.4,385.6L495.9,385.3L496.4,385.1L496.9,385.0L497.4,385.5L497.9,385.5L498.4,386.3L498.9,385.3L499.4,386.2L499.9,385.7L500.4,386.0L500.9,385.1L501.4,385.2L501.9,385.4L502.4,386.0L502.9,385.7L503.4,385.9L503.9,385.8L504.4,386.1L504.9,385.7L505.4,385.4L505.9,385.9L506.4,385.7L506.9,386.5L507.4,385.6L507.9,385.8L508.4,385.6L508.9,386.3L509.4,386.2L509.9,386.1L510.4,385.2L510.9,385.1L511.4,385.9L511.9,386.1L512.4,386.5L512.9,385.0L513.4,385.8L513.9,385.1L514.4,385.4L514.9,385.8L515.4,386.3L515.9,385.7L516.4,385.6L516.9,385.8L517.4,386.5L517.9,387.0L518.4,385.2L518.9,385.8L519.4,385.7L519.9,386.5L520.4,386.2L520.9,386.7L521.4,385.5L521.9,386.0L522.4,385.8L522.9,385.5L523.4,385.9L523.9,385.5L524.4,387.0L524.9,386.2L525.4,385.6L525.9,385.8L526.4,386.8L526.9,385.8L527.4,386.4L527.9,386.3L528.4,386.6L528.9,386.4L529.4,386.0L529.9,385.8L530.4,385.3L530.9,386.1L531.4,386.2L531.9,385.9L532.4,386.0L532.9,385.6L533.4,387.1L533.9,385.9L534.4,385.7L534.9,385.9L535.4,386.1L535.9,386.5L536.4,385.0" fill="none" stroke="#ff00ff" stroke-width="1.6" stroke-linejoin="round"/><path d="M326.2,319.8L326.7,320.9L327.2,322.4L327.7,323.5L328.2,326.3L328.7,328.5L329.2,329.2L329.7,330.5L330.2,331.7L330.7,331.8L331.2,334.3L331.7,333.5L332.2,334.9L332.7,336.7L333.2,336.1L333.7,336.9L334.2,337.3L334.7,338.3L335.2,337.8L335.7,339.1L336.2,340.7L336.7,340.6L337.2,340.9L337.7,341.7L338.2,342.2L338.7,342.6L339.2,343.3L339.7,342.7L340.2,344.2L340.7,344.0L341.2,345.1L341.7,345.2L342.2,345.2L342.7,346.1L343.2,346.1L343.7,347.4L344.2,347.4L344.7,348.2L345.2,347.8L345.7,349.4L346.2,348.9L346.7,350.1L347.2,350.2L347.7,349.7L348.2,350.7L348.7,350.7L349.2,351.5L349.7,352.3L350.2,352.3L350.7,352.8L351.2,352.1L351.7,353.1L352.2,353.4L352.7,354.1L353.2,353.6L353.7,354.4L354.2,354.6L354.7,353.9L355.2,354.4L355.7,355.3L356.2,354.8L356.7,355.0L357.2,356.2L357.7,356.2L358.2,356.2L358.7,356.7L359.2,356.7L359.7,357.0L360.2,357.3L360.7,358.0L361.2,358.8L361.7,358.3L362.2,358.7L362.7,358.9L363.2,358.6L363.7,359.5L364.2,360.0L364.7,359.4L365.2,360.3L365.7,359.8L366.2,360.6L366.7,360.6L367.2,359.2L367.7,357.0L368.2,355.9L368.7,353.4L369.2,350.7L369.7,347.3L370.2,343.8L370.7,339.0L371.2,334.5L371.7,329.4L372.2,325.6L372.7,321.2L373.2,318.2L373.7,313.8L374.2,311.7L374.7,311.5L375.2,311.6L375.7,312.7L376.2,314.8L376.7,318.0L377.2,321.7L377.7,324.5L378.2,327.4L378.8,329.4L379.3,332.6L379.8,334.7L380.3,338.2L380.8,341.1L381.3,345.7L381.8,348.5L382.3,352.5L382.8,357.0L383.3,359.3L383.8,361.9L384.3,364.5L384.8,365.1L385.3,366.4L385.8,366.6L386.3,367.6L386.8,368.3L387.3,368.2L387.8,369.3L388.3,368.6L388.8,369.0L389.3,369.4L389.8,370.0L390.3,369.6L390.8,369.7L391.3,370.2L391.8,370.9L392.3,370.4L392.8,370.2L393.3,371.0L393.8,371.7L394.3,371.5L394.8,372.1L395.3,371.6L395.8,372.8L396.3,373.1L396.8,373.7L397.3,373.8L397.8,374.3L398.3,373.7L398.8,374.7L399.3,373.7L399.8,374.3L400.3,375.0L400.8,374.9L401.3,373.6L401.8,374.7L402.3,374.2L402.8,373.9L403.3,374.3L403.8,374.1L404.3,374.6L404.8,373.2L405.3,373.5L405.8,373.5L406.3,372.5L406.8,373.6L407.3,373.5L407.8,372.1L408.3,372.2L408.8,371.6L409.3,371.5L409.8,370.7L410.3,371.1L410.8,369.8L411.3,370.6L411.8,369.7L412.3,370.2L412.8,368.0L413.3,368.3L413.8,367.4L414.3,367.5L414.8,367.4L415.3,366.5L415.8,366.1L416.3,365.7L416.8,366.3L417.3,366.6L417.8,366.3L418.3,365.7L418.8,365.1L419.3,365.4L419.8,365.1L420.3,365.4L420.8,367.2L421.3,367.2L421.8,368.1L422.3,368.5L422.8,369.9L423.3,370.5L423.8,370.2L424.3,371.0L424.8,371.6L425.3,373.2L425.8,373.9L426.3,373.8L426.8,375.6L427.3,375.2L427.8,375.1L428.3,375.1L428.8,376.3L429.3,376.9L429.8,376.9L430.3,377.7L430.8,378.4L431.3,378.2L431.8,378.9L432.3,379.6L432.8,379.4L433.3,379.2L433.8,379.9L434.3,380.2L434.8,381.2L435.3,380.2L435.8,379.9L436.3,380.9L436.8,381.0L437.3,380.7L437.8,381.2L438.3,381.1L438.8,381.5L439.3,380.6L439.8,380.6L440.3,380.8L440.8,380.5L441.3,381.3L441.8,380.9L442.3,380.5L442.8,381.1L443.3,380.5L443.8,380.7L444.3,380.5L444.8,380.0L445.3,379.9L445.8,379.9L446.3,379.2L446.8,379.5L447.3,379.9L447.8,379.5L448.3,378.8L448.8,380.2L449.3,378.5L449.8,379.1L450.3,379.0L450.8,379.1L451.3,377.9L451.8,378.1L452.3,377.7L452.8,377.9L453.3,377.3L453.8,376.9L454.3,376.7L454.8,377.1L455.3,376.3L455.8,376.3L456.3,375.4L456.8,376.3L457.3,375.8L457.8,377.1L458.3,377.2L458.8,377.3L459.3,377.6L459.8,378.5L460.3,379.1L460.8,379.3L461.3,380.0L461.8,380.6L462.3,381.0L462.8,381.7L463.3,382.2L463.8,382.9L464.3,382.8L464.8,382.4L465.3,383.5L465.8,383.4L466.3,382.9L466.8,383.6L467.3,383.0L467.8,383.0L468.3,383.1L468.8,384.2L469.3,383.6L469.8,383.7L470.3,383.6L470.8,383.4L471.3,383.8L471.8,383.9L472.3,384.5L472.8,383.2L473.3,384.3L473.8,383.9L474.3,382.8L474.8,384.0L475.3,384.2L475.8,384.0L476.3,383.6L476.8,383.5L477.3,382.5L477.8,383.6L478.3,383.5L478.8,382.9L479.3,383.4L479.8,383.0L480.3,384.2L480.8,382.6L481.3,382.7L481.8,382.1L482.3,382.8L482.8,383.0L483.3,382.8L483.8,382.5L484.4,383.1L484.9,382.7L485.4,383.1L485.9,382.5L486.4,381.7L486.9,382.3L487.4,381.9L487.9,382.7L488.4,382.0L488.9,382.2L489.4,382.3L489.9,381.6L490.4,382.2L490.9,382.8L491.4,382.2L491.9,382.4L492.4,382.6L492.9,382.3L493.4,382.5L493.9,383.0L494.4,382.7L494.9,382.9L495.4,382.9L495.9,382.6L496.4,382.6L496.9,384.1L497.4,383.9L497.9,383.3L498.4,383.9L498.9,384.0L499.4,384.0L499.9,383.4L500.4,383.0L500.9,383.1L501.4,383.6L501.9,384.3L502.4,384.5L502.9,383.7L503.4,383.7L503.9,384.4L504.4,384.8L504.9,383.5L505.4,384.1L505.9,384.0L506.4,383.8L506.9,383.8L507.4,383.9L507.9,384.0L508.4,383.4L508.9,384.1L509.4,384.4L509.9,384.5L510.4,384.5L510.9,384.3L511.4,384.3L511.9,385.1L512.4,384.1L512.9,384.3L513.4,384.8L513.9,384.3L514.4,383.7L514.9,384.1L515.4,384.2L515.9,384.3L516.4,384.2L516.9,384.9L517.4,384.8L517.9,384.7L518.4,384.3L518.9,385.0L519.4,385.0L519.9,385.6L520.4,384.3L520.9,384.6L521.4,385.3L521.9,384.2L522.4,384.8L522.9,384.8L523.4,384.8L523.9,384.4L524.4,384.8L524.9,384.2L525.4,385.4L525.9,384.6L526.4,384.9L526.9,384.9L527.4,385.0L527.9,384.9L528.4,385.1L528.9,384.7L529.4,384.9L529.9,384.4L530.4,384.4L530.9,384.5L531.4,384.4L531.9,384.2L532.4,384.6L532.9,385.1L533.4,385.0L533.9,384.7L534.4,385.0L534.9,385.0L535.4,386.1L535.9,384.1L536.4,385.0" fill="none" stroke="#008000" stroke-width="1.6" stroke-linejoin="round"/><line x1="164" y1="84.00" x2="187.4" y2="84.00" stroke="#000000" stroke-width="1.4"/><text transform="translate(191.00,87.70) scale(1,1.05)" font-size="10.3">Eu_1 wt%</text><line x1="164" y1="96.90" x2="187.4" y2="96.90" stroke="#ff0000" stroke-width="1.4"/><text transform="translate(191.00,100.60) scale(1,1.05)" font-size="10.3">Eu_3 wt%</text><line x1="164" y1="109.80" x2="187.4" y2="109.80" stroke="#0000ff" stroke-width="1.4"/><text transform="translate(191.00,113.50) scale(1,1.05)" font-size="10.3">Eu_5 wt%</text><line x1="164" y1="122.70" x2="187.4" y2="122.70" stroke="#ff00ff" stroke-width="1.4"/><text transform="translate(191.00,126.40) scale(1,1.05)" font-size="10.3">Eu_7 wt%</text><line x1="164" y1="135.60" x2="187.4" y2="135.60" stroke="#008000" stroke-width="1.4"/><text transform="translate(191.00,139.30) scale(1,1.05)" font-size="10.3">Eu_10 wt%</text><line x1="164" y1="148.50" x2="187.4" y2="148.50" stroke="#00ffff" stroke-width="1.4"/><text transform="translate(191.00,152.20) scale(1,1.05)" font-size="10.3">Reference</text><line x1="443.6" y1="90.00" x2="467.6" y2="90.00" stroke="#000000" stroke-width="1.4"/><text transform="translate(471.00,93.70) scale(1,1.05)" font-size="10.3">Tb_1 wt%</text><line x1="443.6" y1="102.92" x2="467.6" y2="102.92" stroke="#ff0000" stroke-width="1.4"/><text transform="translate(471.00,106.62) scale(1,1.05)" font-size="10.3">Tb_3 wt%</text><line x1="443.6" y1="115.84" x2="467.6" y2="115.84" stroke="#0000ff" stroke-width="1.4"/><text transform="translate(471.00,119.54) scale(1,1.05)" font-size="10.3">Tb_5 wt%</text><line x1="443.6" y1="128.76" x2="467.6" y2="128.76" stroke="#ff00ff" stroke-width="1.4"/><text transform="translate(471.00,132.46) scale(1,1.05)" font-size="10.3">Tb_7 wt%</text><line x1="443.6" y1="141.68" x2="467.6" y2="141.68" stroke="#008000" stroke-width="1.4"/><text transform="translate(471.00,145.38) scale(1,1.05)" font-size="10.3">Tb_10 wt%</text><line x1="443.6" y1="154.60" x2="467.6" y2="154.60" stroke="#00ffff" stroke-width="1.4"/><text transform="translate(471.00,158.30) scale(1,1.05)" font-size="10.3">Reference</text><line x1="163.7" y1="248.20" x2="188.1" y2="248.20" stroke="#000000" stroke-width="1.4"/><text transform="translate(190.50,251.90) scale(1,1.05)" font-size="10.3">Eu_1 wt%</text><line x1="163.7" y1="261.05" x2="188.1" y2="261.05" stroke="#ff0000" stroke-width="1.4"/><text transform="translate(190.50,264.75) scale(1,1.05)" font-size="10.3">Eu_3 wt%</text><line x1="163.7" y1="273.90" x2="188.1" y2="273.90" stroke="#0000ff" stroke-width="1.4"/><text transform="translate(190.50,277.60) scale(1,1.05)" font-size="10.3">Eu_5 wt%</text><line x1="163.7" y1="286.75" x2="188.1" y2="286.75" stroke="#ff00ff" stroke-width="1.4"/><text transform="translate(190.50,290.45) scale(1,1.05)" font-size="10.3">Eu_7 wt%</text><line x1="163.7" y1="299.60" x2="188.1" y2="299.60" stroke="#008000" stroke-width="1.4"/><text transform="translate(190.50,303.30) scale(1,1.05)" font-size="10.3">Eu_10 wt%</text><line x1="439.1" y1="247.30" x2="463.6" y2="247.30" stroke="#000000" stroke-width="1.4"/><text transform="translate(466.40,251.00) scale(1,1.05)" font-size="10.3">Tb_1 wt%</text><line x1="439.1" y1="260.25" x2="463.6" y2="260.25" stroke="#ff0000" stroke-width="1.4"/><text transform="translate(466.40,263.95) scale(1,1.05)" font-size="10.3">Tb_3 wt%</text><line x1="439.1" y1="273.20" x2="463.6" y2="273.20" stroke="#0000ff" stroke-width="1.4"/><text transform="translate(466.40,276.90) scale(1,1.05)" font-size="10.3">Tb_5 wt%</text><line x1="439.1" y1="286.15" x2="463.6" y2="286.15" stroke="#ff00ff" stroke-width="1.4"/><text transform="translate(466.40,289.85) scale(1,1.05)" font-size="10.3">Tb_7 wt%</text><line x1="439.1" y1="299.10" x2="463.6" y2="299.10" stroke="#008000" stroke-width="1.4"/><text transform="translate(466.40,302.80) scale(1,1.05)" font-size="10.3">Tb_10 wt%</text><text transform="translate(145.00,225.80) scale(1,1.05)" font-size="17" text-anchor="middle">(a)</text><text transform="translate(433.70,223.80) scale(1,1.05)" font-size="17" text-anchor="middle">(b)</text><text transform="translate(144.80,445.30) scale(1,1.05)" font-size="17" text-anchor="middle">(c)</text><text transform="translate(433.30,445.30) scale(1,1.05)" font-size="17" text-anchor="middle">(d)</text></svg>
</body></html>
